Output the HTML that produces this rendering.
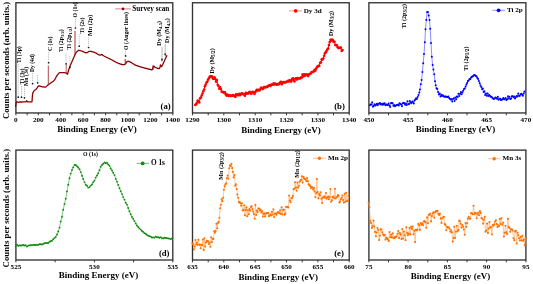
<!DOCTYPE html>
<html><head><meta charset="utf-8"><style>
html,body{margin:0;padding:0;background:#fff;}
svg{display:block;will-change:transform;}
text{font-family:"Liberation Serif",serif;}
</style></head><body>
<svg width="533" height="284" viewBox="0 0 533 284">
<rect width="533" height="284" fill="#fff"/>
<rect x="15.9" y="2.75" width="156.9" height="110.2" fill="none" stroke="#333" stroke-width="1.35"/><rect x="192.5" y="2.75" width="156.7" height="110.2" fill="none" stroke="#333" stroke-width="1.35"/><rect x="368.9" y="2.75" width="157.0" height="110.2" fill="none" stroke="#333" stroke-width="1.35"/><rect x="15.9" y="150.1" width="156.9" height="109.9" fill="none" stroke="#333" stroke-width="1.35"/><rect x="192.5" y="150.1" width="156.7" height="109.9" fill="none" stroke="#333" stroke-width="1.35"/><rect x="368.9" y="150.1" width="157.0" height="109.9" fill="none" stroke="#333" stroke-width="1.35"/><line x1="15.9" y1="113.0" x2="15.9" y2="115.3" stroke="#333" stroke-width="1"/><line x1="38.3" y1="113.0" x2="38.3" y2="115.3" stroke="#333" stroke-width="1"/><line x1="60.7" y1="113.0" x2="60.7" y2="115.3" stroke="#333" stroke-width="1"/><line x1="83.1" y1="113.0" x2="83.1" y2="115.3" stroke="#333" stroke-width="1"/><line x1="105.6" y1="113.0" x2="105.6" y2="115.3" stroke="#333" stroke-width="1"/><line x1="128.0" y1="113.0" x2="128.0" y2="115.3" stroke="#333" stroke-width="1"/><line x1="150.4" y1="113.0" x2="150.4" y2="115.3" stroke="#333" stroke-width="1"/><line x1="172.8" y1="113.0" x2="172.8" y2="115.3" stroke="#333" stroke-width="1"/><line x1="27.1" y1="113.0" x2="27.1" y2="115.3" stroke="#333" stroke-width="1"/><line x1="49.5" y1="113.0" x2="49.5" y2="115.3" stroke="#333" stroke-width="1"/><line x1="71.9" y1="113.0" x2="71.9" y2="115.3" stroke="#333" stroke-width="1"/><line x1="94.4" y1="113.0" x2="94.4" y2="115.3" stroke="#333" stroke-width="1"/><line x1="116.8" y1="113.0" x2="116.8" y2="115.3" stroke="#333" stroke-width="1"/><line x1="139.2" y1="113.0" x2="139.2" y2="115.3" stroke="#333" stroke-width="1"/><line x1="161.6" y1="113.0" x2="161.6" y2="115.3" stroke="#333" stroke-width="1"/><text transform="translate(15.90,121.90) scale(1,0.86)" text-anchor="middle" font-size="7.2" font-family="Liberation Serif" font-weight="bold">0</text><text transform="translate(38.31,121.90) scale(1,0.86)" text-anchor="middle" font-size="7.2" font-family="Liberation Serif" font-weight="bold">200</text><text transform="translate(60.73,121.90) scale(1,0.86)" text-anchor="middle" font-size="7.2" font-family="Liberation Serif" font-weight="bold">400</text><text transform="translate(83.14,121.90) scale(1,0.86)" text-anchor="middle" font-size="7.2" font-family="Liberation Serif" font-weight="bold">600</text><text transform="translate(105.56,121.90) scale(1,0.86)" text-anchor="middle" font-size="7.2" font-family="Liberation Serif" font-weight="bold">800</text><text transform="translate(127.97,121.90) scale(1,0.86)" text-anchor="middle" font-size="7.2" font-family="Liberation Serif" font-weight="bold">1000</text><text transform="translate(150.39,121.90) scale(1,0.86)" text-anchor="middle" font-size="7.2" font-family="Liberation Serif" font-weight="bold">1200</text><text transform="translate(172.80,121.90) scale(1,0.86)" text-anchor="middle" font-size="7.2" font-family="Liberation Serif" font-weight="bold">1400</text><line x1="192.5" y1="113.0" x2="192.5" y2="115.3" stroke="#333" stroke-width="1"/><line x1="223.8" y1="113.0" x2="223.8" y2="115.3" stroke="#333" stroke-width="1"/><line x1="255.2" y1="113.0" x2="255.2" y2="115.3" stroke="#333" stroke-width="1"/><line x1="286.5" y1="113.0" x2="286.5" y2="115.3" stroke="#333" stroke-width="1"/><line x1="317.9" y1="113.0" x2="317.9" y2="115.3" stroke="#333" stroke-width="1"/><line x1="349.2" y1="113.0" x2="349.2" y2="115.3" stroke="#333" stroke-width="1"/><line x1="208.2" y1="113.0" x2="208.2" y2="115.3" stroke="#333" stroke-width="1"/><line x1="239.5" y1="113.0" x2="239.5" y2="115.3" stroke="#333" stroke-width="1"/><line x1="270.9" y1="113.0" x2="270.9" y2="115.3" stroke="#333" stroke-width="1"/><line x1="302.2" y1="113.0" x2="302.2" y2="115.3" stroke="#333" stroke-width="1"/><line x1="333.5" y1="113.0" x2="333.5" y2="115.3" stroke="#333" stroke-width="1"/><text transform="translate(192.50,121.90) scale(1,0.86)" text-anchor="middle" font-size="7.2" font-family="Liberation Serif" font-weight="bold">1290</text><text transform="translate(223.84,121.90) scale(1,0.86)" text-anchor="middle" font-size="7.2" font-family="Liberation Serif" font-weight="bold">1300</text><text transform="translate(255.18,121.90) scale(1,0.86)" text-anchor="middle" font-size="7.2" font-family="Liberation Serif" font-weight="bold">1310</text><text transform="translate(286.52,121.90) scale(1,0.86)" text-anchor="middle" font-size="7.2" font-family="Liberation Serif" font-weight="bold">1320</text><text transform="translate(317.86,121.90) scale(1,0.86)" text-anchor="middle" font-size="7.2" font-family="Liberation Serif" font-weight="bold">1330</text><text transform="translate(349.20,121.90) scale(1,0.86)" text-anchor="middle" font-size="7.2" font-family="Liberation Serif" font-weight="bold">1340</text><line x1="368.9" y1="113.0" x2="368.9" y2="115.3" stroke="#333" stroke-width="1"/><line x1="408.1" y1="113.0" x2="408.1" y2="115.3" stroke="#333" stroke-width="1"/><line x1="447.4" y1="113.0" x2="447.4" y2="115.3" stroke="#333" stroke-width="1"/><line x1="486.6" y1="113.0" x2="486.6" y2="115.3" stroke="#333" stroke-width="1"/><line x1="525.9" y1="113.0" x2="525.9" y2="115.3" stroke="#333" stroke-width="1"/><line x1="388.5" y1="113.0" x2="388.5" y2="115.3" stroke="#333" stroke-width="1"/><line x1="427.8" y1="113.0" x2="427.8" y2="115.3" stroke="#333" stroke-width="1"/><line x1="467.0" y1="113.0" x2="467.0" y2="115.3" stroke="#333" stroke-width="1"/><line x1="506.3" y1="113.0" x2="506.3" y2="115.3" stroke="#333" stroke-width="1"/><text transform="translate(368.90,121.90) scale(1,0.86)" text-anchor="middle" font-size="7.2" font-family="Liberation Serif" font-weight="bold">450</text><text transform="translate(408.15,121.90) scale(1,0.86)" text-anchor="middle" font-size="7.2" font-family="Liberation Serif" font-weight="bold">455</text><text transform="translate(447.40,121.90) scale(1,0.86)" text-anchor="middle" font-size="7.2" font-family="Liberation Serif" font-weight="bold">460</text><text transform="translate(486.65,121.90) scale(1,0.86)" text-anchor="middle" font-size="7.2" font-family="Liberation Serif" font-weight="bold">465</text><text transform="translate(525.90,121.90) scale(1,0.86)" text-anchor="middle" font-size="7.2" font-family="Liberation Serif" font-weight="bold">470</text><line x1="15.9" y1="260.0" x2="15.9" y2="262.3" stroke="#333" stroke-width="1"/><line x1="94.4" y1="260.0" x2="94.4" y2="262.3" stroke="#333" stroke-width="1"/><line x1="172.8" y1="260.0" x2="172.8" y2="262.3" stroke="#333" stroke-width="1"/><line x1="55.1" y1="260.0" x2="55.1" y2="262.3" stroke="#333" stroke-width="1"/><line x1="133.6" y1="260.0" x2="133.6" y2="262.3" stroke="#333" stroke-width="1"/><text transform="translate(15.90,268.60) scale(1,1.0)" text-anchor="middle" font-size="7.1" font-family="Liberation Serif" font-weight="bold">525</text><text transform="translate(94.35,268.60) scale(1,1.0)" text-anchor="middle" font-size="7.1" font-family="Liberation Serif" font-weight="bold">530</text><text transform="translate(172.80,268.60) scale(1,1.0)" text-anchor="middle" font-size="7.1" font-family="Liberation Serif" font-weight="bold">535</text><line x1="192.5" y1="260.0" x2="192.5" y2="262.3" stroke="#333" stroke-width="1"/><line x1="223.8" y1="260.0" x2="223.8" y2="262.3" stroke="#333" stroke-width="1"/><line x1="255.2" y1="260.0" x2="255.2" y2="262.3" stroke="#333" stroke-width="1"/><line x1="286.5" y1="260.0" x2="286.5" y2="262.3" stroke="#333" stroke-width="1"/><line x1="317.9" y1="260.0" x2="317.9" y2="262.3" stroke="#333" stroke-width="1"/><line x1="349.2" y1="260.0" x2="349.2" y2="262.3" stroke="#333" stroke-width="1"/><line x1="208.2" y1="260.0" x2="208.2" y2="262.3" stroke="#333" stroke-width="1"/><line x1="239.5" y1="260.0" x2="239.5" y2="262.3" stroke="#333" stroke-width="1"/><line x1="270.9" y1="260.0" x2="270.9" y2="262.3" stroke="#333" stroke-width="1"/><line x1="302.2" y1="260.0" x2="302.2" y2="262.3" stroke="#333" stroke-width="1"/><line x1="333.5" y1="260.0" x2="333.5" y2="262.3" stroke="#333" stroke-width="1"/><text transform="translate(192.50,268.60) scale(1,1.0)" text-anchor="middle" font-size="7.1" font-family="Liberation Serif" font-weight="bold">635</text><text transform="translate(223.84,268.60) scale(1,1.0)" text-anchor="middle" font-size="7.1" font-family="Liberation Serif" font-weight="bold">640</text><text transform="translate(255.18,268.60) scale(1,1.0)" text-anchor="middle" font-size="7.1" font-family="Liberation Serif" font-weight="bold">645</text><text transform="translate(286.52,268.60) scale(1,1.0)" text-anchor="middle" font-size="7.1" font-family="Liberation Serif" font-weight="bold">650</text><text transform="translate(317.86,268.60) scale(1,1.0)" text-anchor="middle" font-size="7.1" font-family="Liberation Serif" font-weight="bold">655</text><text transform="translate(349.20,268.60) scale(1,1.0)" text-anchor="middle" font-size="7.1" font-family="Liberation Serif" font-weight="bold">660</text><line x1="368.9" y1="260.0" x2="368.9" y2="262.3" stroke="#333" stroke-width="1"/><line x1="408.1" y1="260.0" x2="408.1" y2="262.3" stroke="#333" stroke-width="1"/><line x1="447.4" y1="260.0" x2="447.4" y2="262.3" stroke="#333" stroke-width="1"/><line x1="486.6" y1="260.0" x2="486.6" y2="262.3" stroke="#333" stroke-width="1"/><line x1="525.9" y1="260.0" x2="525.9" y2="262.3" stroke="#333" stroke-width="1"/><line x1="388.5" y1="260.0" x2="388.5" y2="262.3" stroke="#333" stroke-width="1"/><line x1="427.8" y1="260.0" x2="427.8" y2="262.3" stroke="#333" stroke-width="1"/><line x1="467.0" y1="260.0" x2="467.0" y2="262.3" stroke="#333" stroke-width="1"/><line x1="506.3" y1="260.0" x2="506.3" y2="262.3" stroke="#333" stroke-width="1"/><text transform="translate(368.90,268.60) scale(1,1.0)" text-anchor="middle" font-size="7.1" font-family="Liberation Serif" font-weight="bold">75</text><text transform="translate(408.15,268.60) scale(1,1.0)" text-anchor="middle" font-size="7.1" font-family="Liberation Serif" font-weight="bold">80</text><text transform="translate(447.40,268.60) scale(1,1.0)" text-anchor="middle" font-size="7.1" font-family="Liberation Serif" font-weight="bold">85</text><text transform="translate(486.65,268.60) scale(1,1.0)" text-anchor="middle" font-size="7.1" font-family="Liberation Serif" font-weight="bold">90</text><text transform="translate(525.90,268.60) scale(1,1.0)" text-anchor="middle" font-size="7.1" font-family="Liberation Serif" font-weight="bold">95</text><text x="97.1" y="131.6" text-anchor="middle" font-size="9" font-family="Liberation Serif" font-weight="bold">Binding Energy (eV)</text><text x="281.0" y="132.6" text-anchor="middle" font-size="9" font-family="Liberation Serif" font-weight="bold">Binding Energy (eV)</text><text x="455.5" y="131.9" text-anchor="middle" font-size="9" font-family="Liberation Serif" font-weight="bold">Binding Energy (eV)</text><text x="98.5" y="278.3" text-anchor="middle" font-size="9" font-family="Liberation Serif" font-weight="bold">Binding Energy (eV)</text><text x="278.3" y="279.6" text-anchor="middle" font-size="9" font-family="Liberation Serif" font-weight="bold">Binding Energy (eV)</text><text x="450.6" y="279.0" text-anchor="middle" font-size="9" font-family="Liberation Serif" font-weight="bold">Binding Energy (eV)</text><text transform="translate(8.9,119.0) rotate(-90)" font-size="8.67" font-family="Liberation Serif" font-weight="bold">Counts per seconds (arb. units.)</text><text transform="translate(8.9,267.4) rotate(-90)" font-size="8.75" font-family="Liberation Serif" font-weight="bold">Counts per seconds (arb. units.)</text><text x="160.5" y="109.1" font-size="8.7" font-family="Liberation Serif" font-weight="bold">(a)</text><text x="334.2" y="109.1" font-size="8.7" font-family="Liberation Serif" font-weight="bold">(b)</text><text x="158.9" y="256.2" font-size="8.7" font-family="Liberation Serif" font-weight="bold">(d)</text><text x="334.2" y="256.2" font-size="8.7" font-family="Liberation Serif" font-weight="bold">(e)</text><line x1="115.2" y1="8.9" x2="130.9" y2="8.9" stroke="#d08080" stroke-width="1"/><circle cx="123.0" cy="8.9" r="1.3" fill="#8b0000"/><text x="132.3" y="11.2" font-size="7.2" font-family="Liberation Serif" font-weight="bold">Survey scan</text><line x1="289.1" y1="10.9" x2="302.0" y2="10.9" stroke="#ff9090" stroke-width="1"/><circle cx="295.7" cy="10.9" r="1.8" fill="#ff0000"/><text x="303.7" y="12.6" font-size="7.1" font-family="Liberation Serif" font-weight="bold">Dy 3d</text><line x1="492.4" y1="10.3" x2="505.0" y2="10.3" stroke="#9090ff" stroke-width="1"/><circle cx="498.6" cy="10.3" r="1.9" fill="#0000ff"/><text x="506.9" y="12.3" font-size="7.1" font-family="Liberation Serif" font-weight="bold">Ti 2p</text><line x1="136.6" y1="163.4" x2="149.0" y2="163.4" stroke="#70c070" stroke-width="1"/><circle cx="142.7" cy="163.4" r="1.9" fill="#108a10"/><text x="150.9" y="165.4" font-size="7.3" font-family="Liberation Serif" font-weight="bold">O 1s</text><line x1="312.9" y1="158.2" x2="326.0" y2="158.2" stroke="#ffc090" stroke-width="1"/><circle cx="319.4" cy="158.2" r="1.7" fill="#ff7000"/><text x="328.1" y="159.9" font-size="7.1" font-family="Liberation Serif" font-weight="bold">Mn 2p</text><line x1="488.1" y1="158.7" x2="500.5" y2="158.7" stroke="#ffc090" stroke-width="1"/><circle cx="494.2" cy="158.7" r="1.7" fill="#ff7000"/><text x="502.5" y="160.3" font-size="7.1" font-family="Liberation Serif" font-weight="bold">Mn 3s</text><polyline points="15.5,106.8 16.0,103.6 16.5,101.8 17.0,101.7 17.5,102.0 18.0,102.3 18.5,102.3 19.0,102.2 19.5,102.0 20.0,102.0 20.5,102.0 21.0,102.0 21.5,102.0 22.0,102.0 22.5,101.9 23.0,101.9 23.5,101.9 24.0,101.9 24.5,101.9 25.0,101.9 25.5,101.9 26.0,101.8 26.5,100.7 27.0,101.2 27.5,101.8 28.0,101.8 28.5,101.8 29.0,101.8 29.5,101.8 30.0,101.8 30.5,101.8 31.0,101.8 31.5,101.8 32.0,101.8 32.5,94.7 33.0,92.5 33.5,91.8 34.0,90.9 34.5,90.3 35.0,90.0 35.5,89.7 36.0,89.2 36.5,88.7 37.0,88.1 37.5,87.3 38.0,86.5 38.5,86.0 39.0,85.9 39.5,86.0 40.0,86.1 40.5,86.3 41.0,86.5 41.5,86.6 42.0,86.7 42.5,86.8 43.0,86.9 43.5,86.9 44.0,87.0 44.5,87.1 45.0,87.1 45.5,87.1 46.0,86.8 46.5,86.4 47.0,85.9 47.5,85.4 48.0,85.0 48.5,84.6 49.0,84.2 49.5,83.9 50.0,83.5 50.5,83.1 51.0,82.8 51.5,82.5 52.0,82.1 52.5,81.8 53.0,81.4 53.5,81.0 54.0,80.5 54.5,79.9 55.0,79.1 55.5,78.2 56.0,77.2 56.5,76.3 57.0,75.5 57.5,74.8 58.0,74.2 58.5,73.6 59.0,73.1 59.5,72.7 60.0,72.6 60.5,72.6 61.0,72.6 61.5,72.6 62.0,72.6 62.5,72.6 63.0,72.7 63.5,72.7 64.0,72.7 64.5,72.7 65.0,72.8 65.5,72.8 66.0,73.0 66.5,73.2 67.0,73.9 67.5,74.2 68.0,72.3 68.5,70.5 69.0,69.0 69.5,67.6 70.0,66.3 70.5,65.0 71.0,63.8 71.5,62.7 72.0,61.5 72.5,60.4 73.0,59.2 73.5,58.0 74.0,56.9 74.5,55.7 75.0,54.6 75.5,53.6 76.0,52.7 76.5,52.1 77.0,51.6 77.5,51.2 78.0,50.8 78.5,50.5 79.0,50.4 79.5,50.4 80.0,50.5 80.5,50.7 81.0,50.8 81.5,51.0 82.0,51.2 82.5,51.4 83.0,51.6 83.5,51.8 84.0,52.0 84.5,52.2 85.0,52.5 85.5,52.6 86.0,52.8 86.5,52.8 87.0,52.7 87.5,52.4 88.0,52.0 88.5,51.7 89.0,51.4 89.5,51.3 90.0,51.3 90.5,51.4 91.0,51.4 91.5,51.5 92.0,51.6 92.5,51.8 93.0,51.9 93.5,52.0 94.0,52.2 94.5,52.3 95.0,52.6 95.5,52.8 96.0,53.1 96.5,53.4 97.0,53.7 97.5,54.1 98.0,54.3 98.5,54.6 99.0,54.8 99.5,55.0 100.0,55.1 100.5,55.2 101.0,54.9 101.5,54.4 102.0,54.5 102.5,55.0 103.0,55.4 103.5,55.7 104.0,56.0 104.5,56.3 105.0,56.5 105.5,56.8 106.0,57.0 106.5,57.3 107.0,57.5 107.5,57.8 108.0,58.0 108.5,58.2 109.0,58.5 109.5,58.7 110.0,59.0 110.5,59.2 111.0,59.5 111.5,59.7 112.0,60.0 112.5,60.3 113.0,60.6 113.5,60.8 114.0,61.1 114.5,61.4 115.0,61.7 115.5,62.0 116.0,62.2 116.5,62.5 117.0,62.7 117.5,63.0 118.0,63.2 118.5,63.4 119.0,63.6 119.5,63.7 120.0,63.9 120.5,64.1 121.0,64.2 121.5,64.4 122.0,64.5 122.5,64.6 123.0,64.6 123.5,64.6 124.0,64.6 124.5,64.6 125.0,64.4 125.5,63.9 126.0,63.2 126.5,62.4 127.0,61.7 127.5,61.3 128.0,61.3 128.5,61.4 129.0,61.5 129.5,61.7 130.0,61.9 130.5,62.1 131.0,62.4 131.5,62.7 132.0,63.0 132.5,63.4 133.0,63.7 133.5,64.0 134.0,64.3 134.5,64.6 135.0,64.9 135.5,65.1 136.0,65.4 136.5,65.5 137.0,65.7 137.5,65.9 138.0,66.1 138.5,66.2 139.0,66.4 139.5,66.6 140.0,66.7 140.5,66.9 141.0,67.0 141.5,67.2 142.0,67.3 142.5,67.4 143.0,67.6 143.5,67.7 144.0,67.9 144.5,68.0 145.0,68.1 145.5,68.3 146.0,68.4 146.5,68.5 147.0,68.6 147.5,68.8 148.0,68.9 148.5,69.0 149.0,69.1 149.5,69.3 150.0,69.4 150.5,69.5 151.0,69.6 151.5,69.8 152.0,69.9 152.5,69.4 153.0,67.5 153.5,66.1 154.0,66.2 154.5,66.7 155.0,67.2 155.5,67.5 156.0,67.7 156.5,67.9 157.0,68.1 157.5,68.3 158.0,68.4 158.5,68.5 159.0,68.6 159.5,68.6 160.0,67.1 160.5,65.0 161.0,66.1 161.5,66.5 162.0,65.8 162.5,65.0 163.0,63.9 163.5,62.8 164.0,61.7 164.5,60.7 165.0,59.6 165.5,58.5 166.0,57.4 166.5,56.3 167.0,55.2" fill="none" stroke="#8b0000" stroke-width="1.3" stroke-linejoin="round"/><line x1="48.3" y1="85.0" x2="48.3" y2="65.5" stroke="#a01818" stroke-width="0.8"/><line x1="75.0" y1="54.5" x2="75.0" y2="30.8" stroke="#a01818" stroke-width="0.9"/><line x1="125.2" y1="64.2" x2="125.2" y2="59.0" stroke="#a01818" stroke-width="1.0"/><line x1="153.0" y1="69.8" x2="153.0" y2="65.4" stroke="#a01818" stroke-width="1.0"/><line x1="66.2" y1="73.5" x2="66.2" y2="64.5" stroke="#a01818" stroke-width="0.7"/><polyline points="195.3,104.9 196.1,104.2 196.9,102.8 197.7,100.6 198.5,101.4 199.3,102.5 200.1,98.2 200.9,97.5 201.7,95.5 202.5,93.5 203.3,91.3 204.1,89.5 204.9,86.3 205.7,84.6 206.5,82.5 207.3,81.6 208.1,79.6 208.9,78.2 209.7,76.8 210.5,76.4 211.3,76.4 212.1,76.6 212.9,78.4 213.7,79.0 214.5,77.2 215.3,79.1 216.1,81.8 216.9,80.1 217.7,84.7 218.5,86.0 219.3,88.7 220.1,87.4 220.9,89.1 221.7,91.8 222.5,91.7 223.3,92.5 224.1,92.4 224.9,92.3 225.7,94.3 226.5,95.6 227.3,94.5 228.1,95.4 228.9,96.0 229.7,95.4 230.5,95.9 231.3,95.9 232.1,95.7 232.9,95.1 233.7,95.7 234.5,95.8 235.3,96.9 236.1,94.3 236.9,95.3 237.7,94.3 238.5,95.3 239.3,93.7 240.1,95.1 240.9,94.3 241.7,93.3 242.5,93.9 243.3,94.1 244.1,94.2 244.9,95.8 245.7,92.9 246.5,93.8 247.3,93.2 248.1,93.6 248.9,92.6 249.7,91.9 250.5,93.1 251.3,93.7 252.1,92.3 252.9,91.7 253.7,92.6 254.5,93.9 255.3,92.1 256.1,90.9 256.9,89.8 257.7,90.5 258.5,89.8 259.3,90.4 260.1,89.6 260.9,87.9 261.7,87.8 262.5,89.0 263.3,88.5 264.1,87.1 264.9,87.2 265.7,87.2 266.5,86.9 267.3,86.9 268.1,86.1 268.9,85.6 269.7,85.2 270.5,86.0 271.3,84.6 272.1,84.7 272.9,84.6 273.7,83.4 274.5,84.5 275.3,83.6 276.1,84.6 276.9,84.5 277.7,84.1 278.5,84.4 279.3,83.6 280.1,82.5 280.9,81.9 281.7,84.2 282.5,82.6 283.3,82.0 284.1,82.4 284.9,82.0 285.7,82.5 286.5,81.7 287.3,81.5 288.1,80.8 288.9,81.5 289.7,80.1 290.5,81.2 291.3,81.4 292.1,79.1 292.9,78.2 293.7,80.3 294.5,81.5 295.3,78.7 296.1,78.3 296.9,79.4 297.7,78.1 298.5,78.2 299.3,78.5 300.1,78.5 300.9,77.5 301.7,77.7 302.5,74.6 303.3,76.4 304.1,74.3 304.9,75.7 305.7,74.5 306.5,74.9 307.3,74.6 308.1,76.1 308.9,74.5 309.7,74.0 310.5,73.7 311.3,72.4 312.1,72.0 312.9,72.0 313.7,71.5 314.5,69.9 315.3,70.8 316.1,68.8 316.9,67.4 317.7,66.4 318.5,65.7 319.3,66.0 320.1,62.7 320.9,62.5 321.7,59.4 322.5,59.5 323.3,58.5 324.1,55.7 324.9,53.4 325.7,52.3 326.5,51.1 327.3,49.5 328.1,48.6 328.9,45.1 329.7,42.1 330.5,39.7 331.3,40.7 332.1,39.5 332.9,40.4 333.7,41.9 334.5,41.8 335.3,45.0 336.1,45.1 336.9,45.4 337.7,47.2 338.5,48.1 339.3,47.8 340.1,48.0 340.9,47.6 341.7,51.0 342.5,50.0" fill="none" stroke="#ff0000" stroke-width="1"/><circle cx="195.3" cy="104.9" r="1.3" fill="#ff0000"/><circle cx="196.1" cy="104.2" r="1.3" fill="#ff0000"/><circle cx="196.9" cy="102.8" r="1.3" fill="#ff0000"/><circle cx="197.7" cy="100.6" r="1.3" fill="#ff0000"/><circle cx="198.5" cy="101.4" r="1.3" fill="#ff0000"/><circle cx="199.3" cy="102.5" r="1.3" fill="#ff0000"/><circle cx="200.1" cy="98.2" r="1.3" fill="#ff0000"/><circle cx="200.9" cy="97.5" r="1.3" fill="#ff0000"/><circle cx="201.7" cy="95.5" r="1.3" fill="#ff0000"/><circle cx="202.5" cy="93.5" r="1.3" fill="#ff0000"/><circle cx="203.3" cy="91.3" r="1.3" fill="#ff0000"/><circle cx="204.1" cy="89.5" r="1.3" fill="#ff0000"/><circle cx="204.9" cy="86.3" r="1.3" fill="#ff0000"/><circle cx="205.7" cy="84.6" r="1.3" fill="#ff0000"/><circle cx="206.5" cy="82.5" r="1.3" fill="#ff0000"/><circle cx="207.3" cy="81.6" r="1.3" fill="#ff0000"/><circle cx="208.1" cy="79.6" r="1.3" fill="#ff0000"/><circle cx="208.9" cy="78.2" r="1.3" fill="#ff0000"/><circle cx="209.7" cy="76.8" r="1.3" fill="#ff0000"/><circle cx="210.5" cy="76.4" r="1.3" fill="#ff0000"/><circle cx="211.3" cy="76.4" r="1.3" fill="#ff0000"/><circle cx="212.1" cy="76.6" r="1.3" fill="#ff0000"/><circle cx="212.9" cy="78.4" r="1.3" fill="#ff0000"/><circle cx="213.7" cy="79.0" r="1.3" fill="#ff0000"/><circle cx="214.5" cy="77.2" r="1.3" fill="#ff0000"/><circle cx="215.3" cy="79.1" r="1.3" fill="#ff0000"/><circle cx="216.1" cy="81.8" r="1.3" fill="#ff0000"/><circle cx="216.9" cy="80.1" r="1.3" fill="#ff0000"/><circle cx="217.7" cy="84.7" r="1.3" fill="#ff0000"/><circle cx="218.5" cy="86.0" r="1.3" fill="#ff0000"/><circle cx="219.3" cy="88.7" r="1.3" fill="#ff0000"/><circle cx="220.1" cy="87.4" r="1.3" fill="#ff0000"/><circle cx="220.9" cy="89.1" r="1.3" fill="#ff0000"/><circle cx="221.7" cy="91.8" r="1.3" fill="#ff0000"/><circle cx="222.5" cy="91.7" r="1.3" fill="#ff0000"/><circle cx="223.3" cy="92.5" r="1.3" fill="#ff0000"/><circle cx="224.1" cy="92.4" r="1.3" fill="#ff0000"/><circle cx="224.9" cy="92.3" r="1.3" fill="#ff0000"/><circle cx="225.7" cy="94.3" r="1.3" fill="#ff0000"/><circle cx="226.5" cy="95.6" r="1.3" fill="#ff0000"/><circle cx="227.3" cy="94.5" r="1.3" fill="#ff0000"/><circle cx="228.1" cy="95.4" r="1.3" fill="#ff0000"/><circle cx="228.9" cy="96.0" r="1.3" fill="#ff0000"/><circle cx="229.7" cy="95.4" r="1.3" fill="#ff0000"/><circle cx="230.5" cy="95.9" r="1.3" fill="#ff0000"/><circle cx="231.3" cy="95.9" r="1.3" fill="#ff0000"/><circle cx="232.1" cy="95.7" r="1.3" fill="#ff0000"/><circle cx="232.9" cy="95.1" r="1.3" fill="#ff0000"/><circle cx="233.7" cy="95.7" r="1.3" fill="#ff0000"/><circle cx="234.5" cy="95.8" r="1.3" fill="#ff0000"/><circle cx="235.3" cy="96.9" r="1.3" fill="#ff0000"/><circle cx="236.1" cy="94.3" r="1.3" fill="#ff0000"/><circle cx="236.9" cy="95.3" r="1.3" fill="#ff0000"/><circle cx="237.7" cy="94.3" r="1.3" fill="#ff0000"/><circle cx="238.5" cy="95.3" r="1.3" fill="#ff0000"/><circle cx="239.3" cy="93.7" r="1.3" fill="#ff0000"/><circle cx="240.1" cy="95.1" r="1.3" fill="#ff0000"/><circle cx="240.9" cy="94.3" r="1.3" fill="#ff0000"/><circle cx="241.7" cy="93.3" r="1.3" fill="#ff0000"/><circle cx="242.5" cy="93.9" r="1.3" fill="#ff0000"/><circle cx="243.3" cy="94.1" r="1.3" fill="#ff0000"/><circle cx="244.1" cy="94.2" r="1.3" fill="#ff0000"/><circle cx="244.9" cy="95.8" r="1.3" fill="#ff0000"/><circle cx="245.7" cy="92.9" r="1.3" fill="#ff0000"/><circle cx="246.5" cy="93.8" r="1.3" fill="#ff0000"/><circle cx="247.3" cy="93.2" r="1.3" fill="#ff0000"/><circle cx="248.1" cy="93.6" r="1.3" fill="#ff0000"/><circle cx="248.9" cy="92.6" r="1.3" fill="#ff0000"/><circle cx="249.7" cy="91.9" r="1.3" fill="#ff0000"/><circle cx="250.5" cy="93.1" r="1.3" fill="#ff0000"/><circle cx="251.3" cy="93.7" r="1.3" fill="#ff0000"/><circle cx="252.1" cy="92.3" r="1.3" fill="#ff0000"/><circle cx="252.9" cy="91.7" r="1.3" fill="#ff0000"/><circle cx="253.7" cy="92.6" r="1.3" fill="#ff0000"/><circle cx="254.5" cy="93.9" r="1.3" fill="#ff0000"/><circle cx="255.3" cy="92.1" r="1.3" fill="#ff0000"/><circle cx="256.1" cy="90.9" r="1.3" fill="#ff0000"/><circle cx="256.9" cy="89.8" r="1.3" fill="#ff0000"/><circle cx="257.7" cy="90.5" r="1.3" fill="#ff0000"/><circle cx="258.5" cy="89.8" r="1.3" fill="#ff0000"/><circle cx="259.3" cy="90.4" r="1.3" fill="#ff0000"/><circle cx="260.1" cy="89.6" r="1.3" fill="#ff0000"/><circle cx="260.9" cy="87.9" r="1.3" fill="#ff0000"/><circle cx="261.7" cy="87.8" r="1.3" fill="#ff0000"/><circle cx="262.5" cy="89.0" r="1.3" fill="#ff0000"/><circle cx="263.3" cy="88.5" r="1.3" fill="#ff0000"/><circle cx="264.1" cy="87.1" r="1.3" fill="#ff0000"/><circle cx="264.9" cy="87.2" r="1.3" fill="#ff0000"/><circle cx="265.7" cy="87.2" r="1.3" fill="#ff0000"/><circle cx="266.5" cy="86.9" r="1.3" fill="#ff0000"/><circle cx="267.3" cy="86.9" r="1.3" fill="#ff0000"/><circle cx="268.1" cy="86.1" r="1.3" fill="#ff0000"/><circle cx="268.9" cy="85.6" r="1.3" fill="#ff0000"/><circle cx="269.7" cy="85.2" r="1.3" fill="#ff0000"/><circle cx="270.5" cy="86.0" r="1.3" fill="#ff0000"/><circle cx="271.3" cy="84.6" r="1.3" fill="#ff0000"/><circle cx="272.1" cy="84.7" r="1.3" fill="#ff0000"/><circle cx="272.9" cy="84.6" r="1.3" fill="#ff0000"/><circle cx="273.7" cy="83.4" r="1.3" fill="#ff0000"/><circle cx="274.5" cy="84.5" r="1.3" fill="#ff0000"/><circle cx="275.3" cy="83.6" r="1.3" fill="#ff0000"/><circle cx="276.1" cy="84.6" r="1.3" fill="#ff0000"/><circle cx="276.9" cy="84.5" r="1.3" fill="#ff0000"/><circle cx="277.7" cy="84.1" r="1.3" fill="#ff0000"/><circle cx="278.5" cy="84.4" r="1.3" fill="#ff0000"/><circle cx="279.3" cy="83.6" r="1.3" fill="#ff0000"/><circle cx="280.1" cy="82.5" r="1.3" fill="#ff0000"/><circle cx="280.9" cy="81.9" r="1.3" fill="#ff0000"/><circle cx="281.7" cy="84.2" r="1.3" fill="#ff0000"/><circle cx="282.5" cy="82.6" r="1.3" fill="#ff0000"/><circle cx="283.3" cy="82.0" r="1.3" fill="#ff0000"/><circle cx="284.1" cy="82.4" r="1.3" fill="#ff0000"/><circle cx="284.9" cy="82.0" r="1.3" fill="#ff0000"/><circle cx="285.7" cy="82.5" r="1.3" fill="#ff0000"/><circle cx="286.5" cy="81.7" r="1.3" fill="#ff0000"/><circle cx="287.3" cy="81.5" r="1.3" fill="#ff0000"/><circle cx="288.1" cy="80.8" r="1.3" fill="#ff0000"/><circle cx="288.9" cy="81.5" r="1.3" fill="#ff0000"/><circle cx="289.7" cy="80.1" r="1.3" fill="#ff0000"/><circle cx="290.5" cy="81.2" r="1.3" fill="#ff0000"/><circle cx="291.3" cy="81.4" r="1.3" fill="#ff0000"/><circle cx="292.1" cy="79.1" r="1.3" fill="#ff0000"/><circle cx="292.9" cy="78.2" r="1.3" fill="#ff0000"/><circle cx="293.7" cy="80.3" r="1.3" fill="#ff0000"/><circle cx="294.5" cy="81.5" r="1.3" fill="#ff0000"/><circle cx="295.3" cy="78.7" r="1.3" fill="#ff0000"/><circle cx="296.1" cy="78.3" r="1.3" fill="#ff0000"/><circle cx="296.9" cy="79.4" r="1.3" fill="#ff0000"/><circle cx="297.7" cy="78.1" r="1.3" fill="#ff0000"/><circle cx="298.5" cy="78.2" r="1.3" fill="#ff0000"/><circle cx="299.3" cy="78.5" r="1.3" fill="#ff0000"/><circle cx="300.1" cy="78.5" r="1.3" fill="#ff0000"/><circle cx="300.9" cy="77.5" r="1.3" fill="#ff0000"/><circle cx="301.7" cy="77.7" r="1.3" fill="#ff0000"/><circle cx="302.5" cy="74.6" r="1.3" fill="#ff0000"/><circle cx="303.3" cy="76.4" r="1.3" fill="#ff0000"/><circle cx="304.1" cy="74.3" r="1.3" fill="#ff0000"/><circle cx="304.9" cy="75.7" r="1.3" fill="#ff0000"/><circle cx="305.7" cy="74.5" r="1.3" fill="#ff0000"/><circle cx="306.5" cy="74.9" r="1.3" fill="#ff0000"/><circle cx="307.3" cy="74.6" r="1.3" fill="#ff0000"/><circle cx="308.1" cy="76.1" r="1.3" fill="#ff0000"/><circle cx="308.9" cy="74.5" r="1.3" fill="#ff0000"/><circle cx="309.7" cy="74.0" r="1.3" fill="#ff0000"/><circle cx="310.5" cy="73.7" r="1.3" fill="#ff0000"/><circle cx="311.3" cy="72.4" r="1.3" fill="#ff0000"/><circle cx="312.1" cy="72.0" r="1.3" fill="#ff0000"/><circle cx="312.9" cy="72.0" r="1.3" fill="#ff0000"/><circle cx="313.7" cy="71.5" r="1.3" fill="#ff0000"/><circle cx="314.5" cy="69.9" r="1.3" fill="#ff0000"/><circle cx="315.3" cy="70.8" r="1.3" fill="#ff0000"/><circle cx="316.1" cy="68.8" r="1.3" fill="#ff0000"/><circle cx="316.9" cy="67.4" r="1.3" fill="#ff0000"/><circle cx="317.7" cy="66.4" r="1.3" fill="#ff0000"/><circle cx="318.5" cy="65.7" r="1.3" fill="#ff0000"/><circle cx="319.3" cy="66.0" r="1.3" fill="#ff0000"/><circle cx="320.1" cy="62.7" r="1.3" fill="#ff0000"/><circle cx="320.9" cy="62.5" r="1.3" fill="#ff0000"/><circle cx="321.7" cy="59.4" r="1.3" fill="#ff0000"/><circle cx="322.5" cy="59.5" r="1.3" fill="#ff0000"/><circle cx="323.3" cy="58.5" r="1.3" fill="#ff0000"/><circle cx="324.1" cy="55.7" r="1.3" fill="#ff0000"/><circle cx="324.9" cy="53.4" r="1.3" fill="#ff0000"/><circle cx="325.7" cy="52.3" r="1.3" fill="#ff0000"/><circle cx="326.5" cy="51.1" r="1.3" fill="#ff0000"/><circle cx="327.3" cy="49.5" r="1.3" fill="#ff0000"/><circle cx="328.1" cy="48.6" r="1.3" fill="#ff0000"/><circle cx="328.9" cy="45.1" r="1.3" fill="#ff0000"/><circle cx="329.7" cy="42.1" r="1.3" fill="#ff0000"/><circle cx="330.5" cy="39.7" r="1.3" fill="#ff0000"/><circle cx="331.3" cy="40.7" r="1.3" fill="#ff0000"/><circle cx="332.1" cy="39.5" r="1.3" fill="#ff0000"/><circle cx="332.9" cy="40.4" r="1.3" fill="#ff0000"/><circle cx="333.7" cy="41.9" r="1.3" fill="#ff0000"/><circle cx="334.5" cy="41.8" r="1.3" fill="#ff0000"/><circle cx="335.3" cy="45.0" r="1.3" fill="#ff0000"/><circle cx="336.1" cy="45.1" r="1.3" fill="#ff0000"/><circle cx="336.9" cy="45.4" r="1.3" fill="#ff0000"/><circle cx="337.7" cy="47.2" r="1.3" fill="#ff0000"/><circle cx="338.5" cy="48.1" r="1.3" fill="#ff0000"/><circle cx="339.3" cy="47.8" r="1.3" fill="#ff0000"/><circle cx="340.1" cy="48.0" r="1.3" fill="#ff0000"/><circle cx="340.9" cy="47.6" r="1.3" fill="#ff0000"/><circle cx="341.7" cy="51.0" r="1.3" fill="#ff0000"/><circle cx="342.5" cy="50.0" r="1.3" fill="#ff0000"/><polyline points="369.8,105.2 370.6,104.4 371.4,104.4 372.2,102.2 372.9,106.8 373.7,106.0 374.5,104.3 375.3,105.4 376.1,104.8 376.9,103.7 377.7,105.3 378.4,103.8 379.2,103.7 380.0,103.1 380.8,104.5 381.6,103.9 382.4,104.7 383.1,103.5 383.9,104.4 384.7,103.3 385.5,105.3 386.3,104.6 387.1,104.8 387.9,104.9 388.6,103.4 389.4,105.4 390.2,106.9 391.0,102.9 391.8,102.9 392.6,103.2 393.4,105.8 394.1,105.1 394.9,106.2 395.7,105.8 396.5,105.1 397.3,105.1 398.1,104.5 398.8,105.5 399.6,103.2 400.4,103.9 401.2,104.5 402.0,106.2 402.8,103.3 403.6,102.8 404.3,103.3 405.1,104.8 405.9,103.4 406.7,104.9 407.5,101.2 408.3,104.3 409.1,103.9 409.8,101.0 410.6,102.4 411.4,103.3 412.2,101.6 413.0,102.3 413.8,103.4 414.5,100.6 415.3,99.5 416.1,98.3 416.9,99.1 417.7,97.1 418.5,95.1 419.3,92.4 420.0,89.6 420.8,84.3 421.6,80.0 422.4,72.0 423.2,63.3 424.0,54.1 424.8,42.3 425.5,29.3 426.3,20.0 427.1,11.9 427.9,12.1 428.7,15.6 429.5,20.1 430.2,28.7 431.0,43.1 431.8,56.7 432.6,65.1 433.4,69.6 434.2,74.3 435.0,81.2 435.7,85.2 436.5,88.3 437.3,89.1 438.1,91.9 438.9,94.5 439.7,93.5 440.5,96.6 441.2,94.7 442.0,96.0 442.8,95.2 443.6,96.2 444.4,96.8 445.2,96.6 445.9,96.6 446.7,97.0 447.5,97.0 448.3,96.4 449.1,98.0 449.9,98.8 450.7,99.5 451.4,99.3 452.2,101.4 453.0,99.1 453.8,98.3 454.6,100.9 455.4,97.5 456.2,99.2 456.9,96.5 457.7,97.1 458.5,93.7 459.3,95.9 460.1,93.8 460.9,92.1 461.6,94.2 462.4,92.4 463.2,90.7 464.0,88.9 464.8,88.5 465.6,86.6 466.4,84.6 467.1,82.9 467.9,81.0 468.7,80.4 469.5,78.9 470.3,78.9 471.1,77.4 471.9,76.8 472.6,76.4 473.4,75.7 474.2,74.9 475.0,75.3 475.8,76.0 476.6,76.5 477.3,77.9 478.1,78.9 478.9,80.9 479.7,83.2 480.5,85.5 481.3,86.9 482.1,89.2 482.8,88.4 483.6,92.0 484.4,91.3 485.2,95.1 486.0,93.6 486.8,95.7 487.6,93.5 488.3,96.0 489.1,95.0 489.9,95.8 490.7,96.7 491.5,96.7 492.3,97.7 493.0,98.6 493.8,98.9 494.6,98.5 495.4,97.4 496.2,98.1 497.0,98.8 497.8,96.7 498.5,99.8 499.3,98.7 500.1,98.7 500.9,100.0 501.7,99.7 502.5,99.2 503.3,97.9 504.0,99.3 504.8,99.3 505.6,97.9 506.4,99.9 507.2,99.2 508.0,96.3 508.7,98.4 509.5,96.7 510.3,99.1 511.1,98.6 511.9,96.3 512.7,96.3 513.5,97.2 514.2,96.6 515.0,98.4 515.8,97.3 516.6,95.9 517.4,96.6 518.2,93.4 519.0,95.7 519.7,96.1 520.5,94.6 521.3,93.7 522.1,94.7 522.9,95.8 523.7,93.5 524.4,91.6" fill="none" stroke="#8c8cff" stroke-width="1.0"/><circle cx="369.8" cy="105.2" r="1.0" fill="#0000ff"/><circle cx="370.6" cy="104.4" r="1.0" fill="#0000ff"/><circle cx="371.4" cy="104.4" r="1.0" fill="#0000ff"/><circle cx="372.2" cy="102.2" r="1.0" fill="#0000ff"/><circle cx="372.9" cy="106.8" r="1.0" fill="#0000ff"/><circle cx="373.7" cy="106.0" r="1.0" fill="#0000ff"/><circle cx="374.5" cy="104.3" r="1.0" fill="#0000ff"/><circle cx="375.3" cy="105.4" r="1.0" fill="#0000ff"/><circle cx="376.1" cy="104.8" r="1.0" fill="#0000ff"/><circle cx="376.9" cy="103.7" r="1.0" fill="#0000ff"/><circle cx="377.7" cy="105.3" r="1.0" fill="#0000ff"/><circle cx="378.4" cy="103.8" r="1.0" fill="#0000ff"/><circle cx="379.2" cy="103.7" r="1.0" fill="#0000ff"/><circle cx="380.0" cy="103.1" r="1.0" fill="#0000ff"/><circle cx="380.8" cy="104.5" r="1.0" fill="#0000ff"/><circle cx="381.6" cy="103.9" r="1.0" fill="#0000ff"/><circle cx="382.4" cy="104.7" r="1.0" fill="#0000ff"/><circle cx="383.1" cy="103.5" r="1.0" fill="#0000ff"/><circle cx="383.9" cy="104.4" r="1.0" fill="#0000ff"/><circle cx="384.7" cy="103.3" r="1.0" fill="#0000ff"/><circle cx="385.5" cy="105.3" r="1.0" fill="#0000ff"/><circle cx="386.3" cy="104.6" r="1.0" fill="#0000ff"/><circle cx="387.1" cy="104.8" r="1.0" fill="#0000ff"/><circle cx="387.9" cy="104.9" r="1.0" fill="#0000ff"/><circle cx="388.6" cy="103.4" r="1.0" fill="#0000ff"/><circle cx="389.4" cy="105.4" r="1.0" fill="#0000ff"/><circle cx="390.2" cy="106.9" r="1.0" fill="#0000ff"/><circle cx="391.0" cy="102.9" r="1.0" fill="#0000ff"/><circle cx="391.8" cy="102.9" r="1.0" fill="#0000ff"/><circle cx="392.6" cy="103.2" r="1.0" fill="#0000ff"/><circle cx="393.4" cy="105.8" r="1.0" fill="#0000ff"/><circle cx="394.1" cy="105.1" r="1.0" fill="#0000ff"/><circle cx="394.9" cy="106.2" r="1.0" fill="#0000ff"/><circle cx="395.7" cy="105.8" r="1.0" fill="#0000ff"/><circle cx="396.5" cy="105.1" r="1.0" fill="#0000ff"/><circle cx="397.3" cy="105.1" r="1.0" fill="#0000ff"/><circle cx="398.1" cy="104.5" r="1.0" fill="#0000ff"/><circle cx="398.8" cy="105.5" r="1.0" fill="#0000ff"/><circle cx="399.6" cy="103.2" r="1.0" fill="#0000ff"/><circle cx="400.4" cy="103.9" r="1.0" fill="#0000ff"/><circle cx="401.2" cy="104.5" r="1.0" fill="#0000ff"/><circle cx="402.0" cy="106.2" r="1.0" fill="#0000ff"/><circle cx="402.8" cy="103.3" r="1.0" fill="#0000ff"/><circle cx="403.6" cy="102.8" r="1.0" fill="#0000ff"/><circle cx="404.3" cy="103.3" r="1.0" fill="#0000ff"/><circle cx="405.1" cy="104.8" r="1.0" fill="#0000ff"/><circle cx="405.9" cy="103.4" r="1.0" fill="#0000ff"/><circle cx="406.7" cy="104.9" r="1.0" fill="#0000ff"/><circle cx="407.5" cy="101.2" r="1.0" fill="#0000ff"/><circle cx="408.3" cy="104.3" r="1.0" fill="#0000ff"/><circle cx="409.1" cy="103.9" r="1.0" fill="#0000ff"/><circle cx="409.8" cy="101.0" r="1.0" fill="#0000ff"/><circle cx="410.6" cy="102.4" r="1.0" fill="#0000ff"/><circle cx="411.4" cy="103.3" r="1.0" fill="#0000ff"/><circle cx="412.2" cy="101.6" r="1.0" fill="#0000ff"/><circle cx="413.0" cy="102.3" r="1.0" fill="#0000ff"/><circle cx="413.8" cy="103.4" r="1.0" fill="#0000ff"/><circle cx="414.5" cy="100.6" r="1.0" fill="#0000ff"/><circle cx="415.3" cy="99.5" r="1.0" fill="#0000ff"/><circle cx="416.1" cy="98.3" r="1.0" fill="#0000ff"/><circle cx="416.9" cy="99.1" r="1.0" fill="#0000ff"/><circle cx="417.7" cy="97.1" r="1.0" fill="#0000ff"/><circle cx="418.5" cy="95.1" r="1.0" fill="#0000ff"/><circle cx="419.3" cy="92.4" r="1.0" fill="#0000ff"/><circle cx="420.0" cy="89.6" r="1.0" fill="#0000ff"/><circle cx="420.8" cy="84.3" r="1.0" fill="#0000ff"/><circle cx="421.6" cy="80.0" r="1.0" fill="#0000ff"/><circle cx="422.4" cy="72.0" r="1.0" fill="#0000ff"/><circle cx="423.2" cy="63.3" r="1.0" fill="#0000ff"/><circle cx="424.0" cy="54.1" r="1.0" fill="#0000ff"/><circle cx="424.8" cy="42.3" r="1.0" fill="#0000ff"/><circle cx="425.5" cy="29.3" r="1.0" fill="#0000ff"/><circle cx="426.3" cy="20.0" r="1.0" fill="#0000ff"/><circle cx="427.1" cy="11.9" r="1.0" fill="#0000ff"/><circle cx="427.9" cy="12.1" r="1.0" fill="#0000ff"/><circle cx="428.7" cy="15.6" r="1.0" fill="#0000ff"/><circle cx="429.5" cy="20.1" r="1.0" fill="#0000ff"/><circle cx="430.2" cy="28.7" r="1.0" fill="#0000ff"/><circle cx="431.0" cy="43.1" r="1.0" fill="#0000ff"/><circle cx="431.8" cy="56.7" r="1.0" fill="#0000ff"/><circle cx="432.6" cy="65.1" r="1.0" fill="#0000ff"/><circle cx="433.4" cy="69.6" r="1.0" fill="#0000ff"/><circle cx="434.2" cy="74.3" r="1.0" fill="#0000ff"/><circle cx="435.0" cy="81.2" r="1.0" fill="#0000ff"/><circle cx="435.7" cy="85.2" r="1.0" fill="#0000ff"/><circle cx="436.5" cy="88.3" r="1.0" fill="#0000ff"/><circle cx="437.3" cy="89.1" r="1.0" fill="#0000ff"/><circle cx="438.1" cy="91.9" r="1.0" fill="#0000ff"/><circle cx="438.9" cy="94.5" r="1.0" fill="#0000ff"/><circle cx="439.7" cy="93.5" r="1.0" fill="#0000ff"/><circle cx="440.5" cy="96.6" r="1.0" fill="#0000ff"/><circle cx="441.2" cy="94.7" r="1.0" fill="#0000ff"/><circle cx="442.0" cy="96.0" r="1.0" fill="#0000ff"/><circle cx="442.8" cy="95.2" r="1.0" fill="#0000ff"/><circle cx="443.6" cy="96.2" r="1.0" fill="#0000ff"/><circle cx="444.4" cy="96.8" r="1.0" fill="#0000ff"/><circle cx="445.2" cy="96.6" r="1.0" fill="#0000ff"/><circle cx="445.9" cy="96.6" r="1.0" fill="#0000ff"/><circle cx="446.7" cy="97.0" r="1.0" fill="#0000ff"/><circle cx="447.5" cy="97.0" r="1.0" fill="#0000ff"/><circle cx="448.3" cy="96.4" r="1.0" fill="#0000ff"/><circle cx="449.1" cy="98.0" r="1.0" fill="#0000ff"/><circle cx="449.9" cy="98.8" r="1.0" fill="#0000ff"/><circle cx="450.7" cy="99.5" r="1.0" fill="#0000ff"/><circle cx="451.4" cy="99.3" r="1.0" fill="#0000ff"/><circle cx="452.2" cy="101.4" r="1.0" fill="#0000ff"/><circle cx="453.0" cy="99.1" r="1.0" fill="#0000ff"/><circle cx="453.8" cy="98.3" r="1.0" fill="#0000ff"/><circle cx="454.6" cy="100.9" r="1.0" fill="#0000ff"/><circle cx="455.4" cy="97.5" r="1.0" fill="#0000ff"/><circle cx="456.2" cy="99.2" r="1.0" fill="#0000ff"/><circle cx="456.9" cy="96.5" r="1.0" fill="#0000ff"/><circle cx="457.7" cy="97.1" r="1.0" fill="#0000ff"/><circle cx="458.5" cy="93.7" r="1.0" fill="#0000ff"/><circle cx="459.3" cy="95.9" r="1.0" fill="#0000ff"/><circle cx="460.1" cy="93.8" r="1.0" fill="#0000ff"/><circle cx="460.9" cy="92.1" r="1.0" fill="#0000ff"/><circle cx="461.6" cy="94.2" r="1.0" fill="#0000ff"/><circle cx="462.4" cy="92.4" r="1.0" fill="#0000ff"/><circle cx="463.2" cy="90.7" r="1.0" fill="#0000ff"/><circle cx="464.0" cy="88.9" r="1.0" fill="#0000ff"/><circle cx="464.8" cy="88.5" r="1.0" fill="#0000ff"/><circle cx="465.6" cy="86.6" r="1.0" fill="#0000ff"/><circle cx="466.4" cy="84.6" r="1.0" fill="#0000ff"/><circle cx="467.1" cy="82.9" r="1.0" fill="#0000ff"/><circle cx="467.9" cy="81.0" r="1.0" fill="#0000ff"/><circle cx="468.7" cy="80.4" r="1.0" fill="#0000ff"/><circle cx="469.5" cy="78.9" r="1.0" fill="#0000ff"/><circle cx="470.3" cy="78.9" r="1.0" fill="#0000ff"/><circle cx="471.1" cy="77.4" r="1.0" fill="#0000ff"/><circle cx="471.9" cy="76.8" r="1.0" fill="#0000ff"/><circle cx="472.6" cy="76.4" r="1.0" fill="#0000ff"/><circle cx="473.4" cy="75.7" r="1.0" fill="#0000ff"/><circle cx="474.2" cy="74.9" r="1.0" fill="#0000ff"/><circle cx="475.0" cy="75.3" r="1.0" fill="#0000ff"/><circle cx="475.8" cy="76.0" r="1.0" fill="#0000ff"/><circle cx="476.6" cy="76.5" r="1.0" fill="#0000ff"/><circle cx="477.3" cy="77.9" r="1.0" fill="#0000ff"/><circle cx="478.1" cy="78.9" r="1.0" fill="#0000ff"/><circle cx="478.9" cy="80.9" r="1.0" fill="#0000ff"/><circle cx="479.7" cy="83.2" r="1.0" fill="#0000ff"/><circle cx="480.5" cy="85.5" r="1.0" fill="#0000ff"/><circle cx="481.3" cy="86.9" r="1.0" fill="#0000ff"/><circle cx="482.1" cy="89.2" r="1.0" fill="#0000ff"/><circle cx="482.8" cy="88.4" r="1.0" fill="#0000ff"/><circle cx="483.6" cy="92.0" r="1.0" fill="#0000ff"/><circle cx="484.4" cy="91.3" r="1.0" fill="#0000ff"/><circle cx="485.2" cy="95.1" r="1.0" fill="#0000ff"/><circle cx="486.0" cy="93.6" r="1.0" fill="#0000ff"/><circle cx="486.8" cy="95.7" r="1.0" fill="#0000ff"/><circle cx="487.6" cy="93.5" r="1.0" fill="#0000ff"/><circle cx="488.3" cy="96.0" r="1.0" fill="#0000ff"/><circle cx="489.1" cy="95.0" r="1.0" fill="#0000ff"/><circle cx="489.9" cy="95.8" r="1.0" fill="#0000ff"/><circle cx="490.7" cy="96.7" r="1.0" fill="#0000ff"/><circle cx="491.5" cy="96.7" r="1.0" fill="#0000ff"/><circle cx="492.3" cy="97.7" r="1.0" fill="#0000ff"/><circle cx="493.0" cy="98.6" r="1.0" fill="#0000ff"/><circle cx="493.8" cy="98.9" r="1.0" fill="#0000ff"/><circle cx="494.6" cy="98.5" r="1.0" fill="#0000ff"/><circle cx="495.4" cy="97.4" r="1.0" fill="#0000ff"/><circle cx="496.2" cy="98.1" r="1.0" fill="#0000ff"/><circle cx="497.0" cy="98.8" r="1.0" fill="#0000ff"/><circle cx="497.8" cy="96.7" r="1.0" fill="#0000ff"/><circle cx="498.5" cy="99.8" r="1.0" fill="#0000ff"/><circle cx="499.3" cy="98.7" r="1.0" fill="#0000ff"/><circle cx="500.1" cy="98.7" r="1.0" fill="#0000ff"/><circle cx="500.9" cy="100.0" r="1.0" fill="#0000ff"/><circle cx="501.7" cy="99.7" r="1.0" fill="#0000ff"/><circle cx="502.5" cy="99.2" r="1.0" fill="#0000ff"/><circle cx="503.3" cy="97.9" r="1.0" fill="#0000ff"/><circle cx="504.0" cy="99.3" r="1.0" fill="#0000ff"/><circle cx="504.8" cy="99.3" r="1.0" fill="#0000ff"/><circle cx="505.6" cy="97.9" r="1.0" fill="#0000ff"/><circle cx="506.4" cy="99.9" r="1.0" fill="#0000ff"/><circle cx="507.2" cy="99.2" r="1.0" fill="#0000ff"/><circle cx="508.0" cy="96.3" r="1.0" fill="#0000ff"/><circle cx="508.7" cy="98.4" r="1.0" fill="#0000ff"/><circle cx="509.5" cy="96.7" r="1.0" fill="#0000ff"/><circle cx="510.3" cy="99.1" r="1.0" fill="#0000ff"/><circle cx="511.1" cy="98.6" r="1.0" fill="#0000ff"/><circle cx="511.9" cy="96.3" r="1.0" fill="#0000ff"/><circle cx="512.7" cy="96.3" r="1.0" fill="#0000ff"/><circle cx="513.5" cy="97.2" r="1.0" fill="#0000ff"/><circle cx="514.2" cy="96.6" r="1.0" fill="#0000ff"/><circle cx="515.0" cy="98.4" r="1.0" fill="#0000ff"/><circle cx="515.8" cy="97.3" r="1.0" fill="#0000ff"/><circle cx="516.6" cy="95.9" r="1.0" fill="#0000ff"/><circle cx="517.4" cy="96.6" r="1.0" fill="#0000ff"/><circle cx="518.2" cy="93.4" r="1.0" fill="#0000ff"/><circle cx="519.0" cy="95.7" r="1.0" fill="#0000ff"/><circle cx="519.7" cy="96.1" r="1.0" fill="#0000ff"/><circle cx="520.5" cy="94.6" r="1.0" fill="#0000ff"/><circle cx="521.3" cy="93.7" r="1.0" fill="#0000ff"/><circle cx="522.1" cy="94.7" r="1.0" fill="#0000ff"/><circle cx="522.9" cy="95.8" r="1.0" fill="#0000ff"/><circle cx="523.7" cy="93.5" r="1.0" fill="#0000ff"/><circle cx="524.4" cy="91.6" r="1.0" fill="#0000ff"/><polyline points="15.7,246.2 16.9,244.8 18.2,245.7 19.4,245.4 20.7,245.5 21.9,245.5 23.2,245.0 24.4,245.5 25.7,245.3 26.9,246.6 28.2,245.6 29.4,245.4 30.7,245.3 31.9,245.1 33.2,244.9 34.5,244.9 35.7,245.0 37.0,244.7 38.2,244.9 39.5,244.3 40.7,244.2 42.0,244.5 43.2,243.9 44.5,243.3 45.7,243.1 47.0,243.0 48.2,243.0 49.5,241.8 50.7,241.2 52.0,240.8 53.2,239.2 54.5,238.1 55.7,236.9 57.0,234.5 58.2,231.5 59.5,227.6 60.7,221.4 62.0,216.8 63.2,209.8 64.5,203.9 65.7,198.8 67.0,191.4 68.2,184.8 69.5,178.2 70.7,173.6 72.0,169.9 73.2,167.4 74.5,164.9 75.7,164.9 77.0,166.3 78.2,167.5 79.5,169.2 80.7,172.1 82.0,175.8 83.2,179.0 84.5,182.1 85.7,184.7 87.0,185.8 88.2,187.6 89.5,187.1 90.7,185.6 92.0,184.5 93.2,182.2 94.5,180.6 95.7,177.6 97.0,175.5 98.2,173.2 99.5,170.3 100.7,166.8 102.0,165.0 103.2,163.7 104.5,162.5 105.7,163.2 107.0,162.8 108.2,164.5 109.5,165.8 110.7,168.5 112.0,170.4 113.2,172.8 114.5,175.1 115.7,178.9 117.0,181.6 118.2,184.9 119.5,188.2 120.7,191.2 122.0,194.1 123.2,197.1 124.5,199.6 125.7,202.7 127.0,204.6 128.2,208.0 129.4,211.2 130.7,214.3 131.9,216.9 133.2,218.8 134.4,220.9 135.7,223.4 136.9,225.5 138.2,227.0 139.4,228.4 140.7,229.6 141.9,231.0 143.2,231.9 144.4,233.3 145.7,233.7 146.9,234.9 148.2,235.6 149.4,236.3 150.7,236.6 151.9,237.5 153.2,237.4 154.4,237.6 155.7,236.6 156.9,237.3 158.2,237.3 159.4,237.8 160.7,237.1 161.9,238.3 163.2,238.4 164.4,237.8 165.7,237.9 166.9,238.1 168.2,238.4 169.4,238.6 170.7,239.1 171.9,238.4" fill="none" stroke="#70c070" stroke-width="0.9"/><circle cx="15.7" cy="246.2" r="0.95" fill="#108a10"/><circle cx="16.9" cy="244.8" r="0.95" fill="#108a10"/><circle cx="18.2" cy="245.7" r="0.95" fill="#108a10"/><circle cx="19.4" cy="245.4" r="0.95" fill="#108a10"/><circle cx="20.7" cy="245.5" r="0.95" fill="#108a10"/><circle cx="21.9" cy="245.5" r="0.95" fill="#108a10"/><circle cx="23.2" cy="245.0" r="0.95" fill="#108a10"/><circle cx="24.4" cy="245.5" r="0.95" fill="#108a10"/><circle cx="25.7" cy="245.3" r="0.95" fill="#108a10"/><circle cx="26.9" cy="246.6" r="0.95" fill="#108a10"/><circle cx="28.2" cy="245.6" r="0.95" fill="#108a10"/><circle cx="29.4" cy="245.4" r="0.95" fill="#108a10"/><circle cx="30.7" cy="245.3" r="0.95" fill="#108a10"/><circle cx="31.9" cy="245.1" r="0.95" fill="#108a10"/><circle cx="33.2" cy="244.9" r="0.95" fill="#108a10"/><circle cx="34.5" cy="244.9" r="0.95" fill="#108a10"/><circle cx="35.7" cy="245.0" r="0.95" fill="#108a10"/><circle cx="37.0" cy="244.7" r="0.95" fill="#108a10"/><circle cx="38.2" cy="244.9" r="0.95" fill="#108a10"/><circle cx="39.5" cy="244.3" r="0.95" fill="#108a10"/><circle cx="40.7" cy="244.2" r="0.95" fill="#108a10"/><circle cx="42.0" cy="244.5" r="0.95" fill="#108a10"/><circle cx="43.2" cy="243.9" r="0.95" fill="#108a10"/><circle cx="44.5" cy="243.3" r="0.95" fill="#108a10"/><circle cx="45.7" cy="243.1" r="0.95" fill="#108a10"/><circle cx="47.0" cy="243.0" r="0.95" fill="#108a10"/><circle cx="48.2" cy="243.0" r="0.95" fill="#108a10"/><circle cx="49.5" cy="241.8" r="0.95" fill="#108a10"/><circle cx="50.7" cy="241.2" r="0.95" fill="#108a10"/><circle cx="52.0" cy="240.8" r="0.95" fill="#108a10"/><circle cx="53.2" cy="239.2" r="0.95" fill="#108a10"/><circle cx="54.5" cy="238.1" r="0.95" fill="#108a10"/><circle cx="55.7" cy="236.9" r="0.95" fill="#108a10"/><circle cx="57.0" cy="234.5" r="0.95" fill="#108a10"/><circle cx="58.2" cy="231.5" r="0.95" fill="#108a10"/><circle cx="59.5" cy="227.6" r="0.95" fill="#108a10"/><circle cx="60.7" cy="221.4" r="0.95" fill="#108a10"/><circle cx="62.0" cy="216.8" r="0.95" fill="#108a10"/><circle cx="63.2" cy="209.8" r="0.95" fill="#108a10"/><circle cx="64.5" cy="203.9" r="0.95" fill="#108a10"/><circle cx="65.7" cy="198.8" r="0.95" fill="#108a10"/><circle cx="67.0" cy="191.4" r="0.95" fill="#108a10"/><circle cx="68.2" cy="184.8" r="0.95" fill="#108a10"/><circle cx="69.5" cy="178.2" r="0.95" fill="#108a10"/><circle cx="70.7" cy="173.6" r="0.95" fill="#108a10"/><circle cx="72.0" cy="169.9" r="0.95" fill="#108a10"/><circle cx="73.2" cy="167.4" r="0.95" fill="#108a10"/><circle cx="74.5" cy="164.9" r="0.95" fill="#108a10"/><circle cx="75.7" cy="164.9" r="0.95" fill="#108a10"/><circle cx="77.0" cy="166.3" r="0.95" fill="#108a10"/><circle cx="78.2" cy="167.5" r="0.95" fill="#108a10"/><circle cx="79.5" cy="169.2" r="0.95" fill="#108a10"/><circle cx="80.7" cy="172.1" r="0.95" fill="#108a10"/><circle cx="82.0" cy="175.8" r="0.95" fill="#108a10"/><circle cx="83.2" cy="179.0" r="0.95" fill="#108a10"/><circle cx="84.5" cy="182.1" r="0.95" fill="#108a10"/><circle cx="85.7" cy="184.7" r="0.95" fill="#108a10"/><circle cx="87.0" cy="185.8" r="0.95" fill="#108a10"/><circle cx="88.2" cy="187.6" r="0.95" fill="#108a10"/><circle cx="89.5" cy="187.1" r="0.95" fill="#108a10"/><circle cx="90.7" cy="185.6" r="0.95" fill="#108a10"/><circle cx="92.0" cy="184.5" r="0.95" fill="#108a10"/><circle cx="93.2" cy="182.2" r="0.95" fill="#108a10"/><circle cx="94.5" cy="180.6" r="0.95" fill="#108a10"/><circle cx="95.7" cy="177.6" r="0.95" fill="#108a10"/><circle cx="97.0" cy="175.5" r="0.95" fill="#108a10"/><circle cx="98.2" cy="173.2" r="0.95" fill="#108a10"/><circle cx="99.5" cy="170.3" r="0.95" fill="#108a10"/><circle cx="100.7" cy="166.8" r="0.95" fill="#108a10"/><circle cx="102.0" cy="165.0" r="0.95" fill="#108a10"/><circle cx="103.2" cy="163.7" r="0.95" fill="#108a10"/><circle cx="104.5" cy="162.5" r="0.95" fill="#108a10"/><circle cx="105.7" cy="163.2" r="0.95" fill="#108a10"/><circle cx="107.0" cy="162.8" r="0.95" fill="#108a10"/><circle cx="108.2" cy="164.5" r="0.95" fill="#108a10"/><circle cx="109.5" cy="165.8" r="0.95" fill="#108a10"/><circle cx="110.7" cy="168.5" r="0.95" fill="#108a10"/><circle cx="112.0" cy="170.4" r="0.95" fill="#108a10"/><circle cx="113.2" cy="172.8" r="0.95" fill="#108a10"/><circle cx="114.5" cy="175.1" r="0.95" fill="#108a10"/><circle cx="115.7" cy="178.9" r="0.95" fill="#108a10"/><circle cx="117.0" cy="181.6" r="0.95" fill="#108a10"/><circle cx="118.2" cy="184.9" r="0.95" fill="#108a10"/><circle cx="119.5" cy="188.2" r="0.95" fill="#108a10"/><circle cx="120.7" cy="191.2" r="0.95" fill="#108a10"/><circle cx="122.0" cy="194.1" r="0.95" fill="#108a10"/><circle cx="123.2" cy="197.1" r="0.95" fill="#108a10"/><circle cx="124.5" cy="199.6" r="0.95" fill="#108a10"/><circle cx="125.7" cy="202.7" r="0.95" fill="#108a10"/><circle cx="127.0" cy="204.6" r="0.95" fill="#108a10"/><circle cx="128.2" cy="208.0" r="0.95" fill="#108a10"/><circle cx="129.4" cy="211.2" r="0.95" fill="#108a10"/><circle cx="130.7" cy="214.3" r="0.95" fill="#108a10"/><circle cx="131.9" cy="216.9" r="0.95" fill="#108a10"/><circle cx="133.2" cy="218.8" r="0.95" fill="#108a10"/><circle cx="134.4" cy="220.9" r="0.95" fill="#108a10"/><circle cx="135.7" cy="223.4" r="0.95" fill="#108a10"/><circle cx="136.9" cy="225.5" r="0.95" fill="#108a10"/><circle cx="138.2" cy="227.0" r="0.95" fill="#108a10"/><circle cx="139.4" cy="228.4" r="0.95" fill="#108a10"/><circle cx="140.7" cy="229.6" r="0.95" fill="#108a10"/><circle cx="141.9" cy="231.0" r="0.95" fill="#108a10"/><circle cx="143.2" cy="231.9" r="0.95" fill="#108a10"/><circle cx="144.4" cy="233.3" r="0.95" fill="#108a10"/><circle cx="145.7" cy="233.7" r="0.95" fill="#108a10"/><circle cx="146.9" cy="234.9" r="0.95" fill="#108a10"/><circle cx="148.2" cy="235.6" r="0.95" fill="#108a10"/><circle cx="149.4" cy="236.3" r="0.95" fill="#108a10"/><circle cx="150.7" cy="236.6" r="0.95" fill="#108a10"/><circle cx="151.9" cy="237.5" r="0.95" fill="#108a10"/><circle cx="153.2" cy="237.4" r="0.95" fill="#108a10"/><circle cx="154.4" cy="237.6" r="0.95" fill="#108a10"/><circle cx="155.7" cy="236.6" r="0.95" fill="#108a10"/><circle cx="156.9" cy="237.3" r="0.95" fill="#108a10"/><circle cx="158.2" cy="237.3" r="0.95" fill="#108a10"/><circle cx="159.4" cy="237.8" r="0.95" fill="#108a10"/><circle cx="160.7" cy="237.1" r="0.95" fill="#108a10"/><circle cx="161.9" cy="238.3" r="0.95" fill="#108a10"/><circle cx="163.2" cy="238.4" r="0.95" fill="#108a10"/><circle cx="164.4" cy="237.8" r="0.95" fill="#108a10"/><circle cx="165.7" cy="237.9" r="0.95" fill="#108a10"/><circle cx="166.9" cy="238.1" r="0.95" fill="#108a10"/><circle cx="168.2" cy="238.4" r="0.95" fill="#108a10"/><circle cx="169.4" cy="238.6" r="0.95" fill="#108a10"/><circle cx="170.7" cy="239.1" r="0.95" fill="#108a10"/><circle cx="171.9" cy="238.4" r="0.95" fill="#108a10"/><polyline points="192.4,243.2 193.2,244.4 193.9,249.4 194.7,246.5 195.4,240.0 196.2,244.5 196.9,242.6 197.7,244.7 198.4,239.7 199.2,244.8 199.9,244.6 200.7,248.3 201.4,244.7 202.2,245.2 202.9,239.5 203.7,249.9 204.4,238.2 205.2,246.6 205.9,242.5 206.7,240.8 207.4,241.4 208.2,241.2 208.9,244.0 209.7,242.5 210.4,246.8 211.2,237.3 211.9,242.0 212.7,238.7 213.4,239.0 214.2,231.2 214.9,232.7 215.7,231.0 216.4,223.8 217.2,228.3 217.9,223.1 218.7,221.9 219.4,217.8 220.2,208.3 220.9,204.7 221.7,199.4 222.4,201.3 223.2,197.8 223.9,189.7 224.7,186.4 225.4,184.4 226.2,183.4 226.9,178.1 227.7,175.5 228.4,178.7 229.2,168.2 229.9,165.2 230.7,166.1 231.4,163.8 232.2,168.1 232.9,171.9 233.7,177.4 234.4,174.9 235.2,185.8 235.9,184.3 236.7,189.1 237.4,194.6 238.2,197.7 238.9,202.1 239.7,202.1 240.4,203.3 241.2,205.7 241.9,203.2 242.7,210.5 243.4,210.1 244.2,205.3 244.9,215.3 245.7,209.9 246.4,207.4 247.2,216.2 247.9,210.2 248.7,214.3 249.4,209.1 250.2,210.8 250.9,206.9 251.7,206.3 252.4,209.0 253.2,211.6 253.9,214.1 254.7,218.7 255.4,204.9 256.1,215.0 256.9,210.6 257.6,212.1 258.4,208.5 259.1,208.6 259.9,210.7 260.6,209.6 261.4,212.4 262.1,211.1 262.9,216.6 263.6,213.6 264.4,213.6 265.1,216.4 265.9,213.6 266.6,213.1 267.4,213.0 268.1,212.9 268.9,216.3 269.6,215.5 270.4,214.3 271.1,215.5 271.9,211.8 272.6,214.7 273.4,209.3 274.1,217.0 274.9,213.5 275.6,213.7 276.4,214.8 277.1,213.0 277.9,212.3 278.6,212.3 279.4,213.2 280.1,210.3 280.9,213.9 281.6,207.4 282.4,214.5 283.1,210.0 283.9,209.6 284.6,214.8 285.4,213.5 286.1,206.8 286.9,207.0 287.6,207.1 288.4,207.5 289.1,195.5 289.9,200.6 290.6,202.2 291.4,198.1 292.1,197.9 292.9,195.9 293.6,189.3 294.4,188.8 295.1,182.3 295.9,187.6 296.6,190.7 297.4,182.5 298.1,187.7 298.9,185.8 299.6,181.7 300.4,180.6 301.1,179.7 301.9,176.2 302.6,182.6 303.4,176.9 304.1,178.3 304.9,179.0 305.6,179.5 306.4,181.3 307.1,178.1 307.9,181.2 308.6,184.4 309.4,184.9 310.1,185.9 310.9,188.1 311.6,186.9 312.4,187.5 313.1,189.6 313.9,187.9 314.6,191.2 315.4,197.3 316.1,193.1 316.9,179.0 317.6,192.1 318.4,198.4 319.1,194.1 319.9,195.4 320.6,192.3 321.4,198.8 322.1,203.0 322.9,197.6 323.6,197.1 324.4,196.2 325.1,197.7 325.9,193.0 326.6,198.8 327.4,197.2 328.1,196.6 328.9,199.2 329.6,197.2 330.4,189.0 331.1,201.7 331.9,200.3 332.6,197.1 333.4,196.5 334.1,198.2 334.9,188.7 335.6,198.5 336.4,197.0 337.1,196.7 337.9,195.1 338.6,195.8 339.4,202.4 340.1,201.5 340.9,199.2 341.6,197.8 342.4,195.5 343.1,200.0 343.9,202.6 344.6,193.8 345.4,201.8 346.1,192.8 346.9,201.3 347.6,200.6 348.4,196.0" fill="none" stroke="#ffb070" stroke-width="0.7"/><circle cx="192.4" cy="243.2" r="1.05" fill="#ff7000"/><circle cx="193.2" cy="244.4" r="1.05" fill="#ff7000"/><circle cx="193.9" cy="249.4" r="1.05" fill="#ff7000"/><circle cx="194.7" cy="246.5" r="1.05" fill="#ff7000"/><circle cx="195.4" cy="240.0" r="1.05" fill="#ff7000"/><circle cx="196.2" cy="244.5" r="1.05" fill="#ff7000"/><circle cx="196.9" cy="242.6" r="1.05" fill="#ff7000"/><circle cx="197.7" cy="244.7" r="1.05" fill="#ff7000"/><circle cx="198.4" cy="239.7" r="1.05" fill="#ff7000"/><circle cx="199.2" cy="244.8" r="1.05" fill="#ff7000"/><circle cx="199.9" cy="244.6" r="1.05" fill="#ff7000"/><circle cx="200.7" cy="248.3" r="1.05" fill="#ff7000"/><circle cx="201.4" cy="244.7" r="1.05" fill="#ff7000"/><circle cx="202.2" cy="245.2" r="1.05" fill="#ff7000"/><circle cx="202.9" cy="239.5" r="1.05" fill="#ff7000"/><circle cx="203.7" cy="249.9" r="1.05" fill="#ff7000"/><circle cx="204.4" cy="238.2" r="1.05" fill="#ff7000"/><circle cx="205.2" cy="246.6" r="1.05" fill="#ff7000"/><circle cx="205.9" cy="242.5" r="1.05" fill="#ff7000"/><circle cx="206.7" cy="240.8" r="1.05" fill="#ff7000"/><circle cx="207.4" cy="241.4" r="1.05" fill="#ff7000"/><circle cx="208.2" cy="241.2" r="1.05" fill="#ff7000"/><circle cx="208.9" cy="244.0" r="1.05" fill="#ff7000"/><circle cx="209.7" cy="242.5" r="1.05" fill="#ff7000"/><circle cx="210.4" cy="246.8" r="1.05" fill="#ff7000"/><circle cx="211.2" cy="237.3" r="1.05" fill="#ff7000"/><circle cx="211.9" cy="242.0" r="1.05" fill="#ff7000"/><circle cx="212.7" cy="238.7" r="1.05" fill="#ff7000"/><circle cx="213.4" cy="239.0" r="1.05" fill="#ff7000"/><circle cx="214.2" cy="231.2" r="1.05" fill="#ff7000"/><circle cx="214.9" cy="232.7" r="1.05" fill="#ff7000"/><circle cx="215.7" cy="231.0" r="1.05" fill="#ff7000"/><circle cx="216.4" cy="223.8" r="1.05" fill="#ff7000"/><circle cx="217.2" cy="228.3" r="1.05" fill="#ff7000"/><circle cx="217.9" cy="223.1" r="1.05" fill="#ff7000"/><circle cx="218.7" cy="221.9" r="1.05" fill="#ff7000"/><circle cx="219.4" cy="217.8" r="1.05" fill="#ff7000"/><circle cx="220.2" cy="208.3" r="1.05" fill="#ff7000"/><circle cx="220.9" cy="204.7" r="1.05" fill="#ff7000"/><circle cx="221.7" cy="199.4" r="1.05" fill="#ff7000"/><circle cx="222.4" cy="201.3" r="1.05" fill="#ff7000"/><circle cx="223.2" cy="197.8" r="1.05" fill="#ff7000"/><circle cx="223.9" cy="189.7" r="1.05" fill="#ff7000"/><circle cx="224.7" cy="186.4" r="1.05" fill="#ff7000"/><circle cx="225.4" cy="184.4" r="1.05" fill="#ff7000"/><circle cx="226.2" cy="183.4" r="1.05" fill="#ff7000"/><circle cx="226.9" cy="178.1" r="1.05" fill="#ff7000"/><circle cx="227.7" cy="175.5" r="1.05" fill="#ff7000"/><circle cx="228.4" cy="178.7" r="1.05" fill="#ff7000"/><circle cx="229.2" cy="168.2" r="1.05" fill="#ff7000"/><circle cx="229.9" cy="165.2" r="1.05" fill="#ff7000"/><circle cx="230.7" cy="166.1" r="1.05" fill="#ff7000"/><circle cx="231.4" cy="163.8" r="1.05" fill="#ff7000"/><circle cx="232.2" cy="168.1" r="1.05" fill="#ff7000"/><circle cx="232.9" cy="171.9" r="1.05" fill="#ff7000"/><circle cx="233.7" cy="177.4" r="1.05" fill="#ff7000"/><circle cx="234.4" cy="174.9" r="1.05" fill="#ff7000"/><circle cx="235.2" cy="185.8" r="1.05" fill="#ff7000"/><circle cx="235.9" cy="184.3" r="1.05" fill="#ff7000"/><circle cx="236.7" cy="189.1" r="1.05" fill="#ff7000"/><circle cx="237.4" cy="194.6" r="1.05" fill="#ff7000"/><circle cx="238.2" cy="197.7" r="1.05" fill="#ff7000"/><circle cx="238.9" cy="202.1" r="1.05" fill="#ff7000"/><circle cx="239.7" cy="202.1" r="1.05" fill="#ff7000"/><circle cx="240.4" cy="203.3" r="1.05" fill="#ff7000"/><circle cx="241.2" cy="205.7" r="1.05" fill="#ff7000"/><circle cx="241.9" cy="203.2" r="1.05" fill="#ff7000"/><circle cx="242.7" cy="210.5" r="1.05" fill="#ff7000"/><circle cx="243.4" cy="210.1" r="1.05" fill="#ff7000"/><circle cx="244.2" cy="205.3" r="1.05" fill="#ff7000"/><circle cx="244.9" cy="215.3" r="1.05" fill="#ff7000"/><circle cx="245.7" cy="209.9" r="1.05" fill="#ff7000"/><circle cx="246.4" cy="207.4" r="1.05" fill="#ff7000"/><circle cx="247.2" cy="216.2" r="1.05" fill="#ff7000"/><circle cx="247.9" cy="210.2" r="1.05" fill="#ff7000"/><circle cx="248.7" cy="214.3" r="1.05" fill="#ff7000"/><circle cx="249.4" cy="209.1" r="1.05" fill="#ff7000"/><circle cx="250.2" cy="210.8" r="1.05" fill="#ff7000"/><circle cx="250.9" cy="206.9" r="1.05" fill="#ff7000"/><circle cx="251.7" cy="206.3" r="1.05" fill="#ff7000"/><circle cx="252.4" cy="209.0" r="1.05" fill="#ff7000"/><circle cx="253.2" cy="211.6" r="1.05" fill="#ff7000"/><circle cx="253.9" cy="214.1" r="1.05" fill="#ff7000"/><circle cx="254.7" cy="218.7" r="1.05" fill="#ff7000"/><circle cx="255.4" cy="204.9" r="1.05" fill="#ff7000"/><circle cx="256.1" cy="215.0" r="1.05" fill="#ff7000"/><circle cx="256.9" cy="210.6" r="1.05" fill="#ff7000"/><circle cx="257.6" cy="212.1" r="1.05" fill="#ff7000"/><circle cx="258.4" cy="208.5" r="1.05" fill="#ff7000"/><circle cx="259.1" cy="208.6" r="1.05" fill="#ff7000"/><circle cx="259.9" cy="210.7" r="1.05" fill="#ff7000"/><circle cx="260.6" cy="209.6" r="1.05" fill="#ff7000"/><circle cx="261.4" cy="212.4" r="1.05" fill="#ff7000"/><circle cx="262.1" cy="211.1" r="1.05" fill="#ff7000"/><circle cx="262.9" cy="216.6" r="1.05" fill="#ff7000"/><circle cx="263.6" cy="213.6" r="1.05" fill="#ff7000"/><circle cx="264.4" cy="213.6" r="1.05" fill="#ff7000"/><circle cx="265.1" cy="216.4" r="1.05" fill="#ff7000"/><circle cx="265.9" cy="213.6" r="1.05" fill="#ff7000"/><circle cx="266.6" cy="213.1" r="1.05" fill="#ff7000"/><circle cx="267.4" cy="213.0" r="1.05" fill="#ff7000"/><circle cx="268.1" cy="212.9" r="1.05" fill="#ff7000"/><circle cx="268.9" cy="216.3" r="1.05" fill="#ff7000"/><circle cx="269.6" cy="215.5" r="1.05" fill="#ff7000"/><circle cx="270.4" cy="214.3" r="1.05" fill="#ff7000"/><circle cx="271.1" cy="215.5" r="1.05" fill="#ff7000"/><circle cx="271.9" cy="211.8" r="1.05" fill="#ff7000"/><circle cx="272.6" cy="214.7" r="1.05" fill="#ff7000"/><circle cx="273.4" cy="209.3" r="1.05" fill="#ff7000"/><circle cx="274.1" cy="217.0" r="1.05" fill="#ff7000"/><circle cx="274.9" cy="213.5" r="1.05" fill="#ff7000"/><circle cx="275.6" cy="213.7" r="1.05" fill="#ff7000"/><circle cx="276.4" cy="214.8" r="1.05" fill="#ff7000"/><circle cx="277.1" cy="213.0" r="1.05" fill="#ff7000"/><circle cx="277.9" cy="212.3" r="1.05" fill="#ff7000"/><circle cx="278.6" cy="212.3" r="1.05" fill="#ff7000"/><circle cx="279.4" cy="213.2" r="1.05" fill="#ff7000"/><circle cx="280.1" cy="210.3" r="1.05" fill="#ff7000"/><circle cx="280.9" cy="213.9" r="1.05" fill="#ff7000"/><circle cx="281.6" cy="207.4" r="1.05" fill="#ff7000"/><circle cx="282.4" cy="214.5" r="1.05" fill="#ff7000"/><circle cx="283.1" cy="210.0" r="1.05" fill="#ff7000"/><circle cx="283.9" cy="209.6" r="1.05" fill="#ff7000"/><circle cx="284.6" cy="214.8" r="1.05" fill="#ff7000"/><circle cx="285.4" cy="213.5" r="1.05" fill="#ff7000"/><circle cx="286.1" cy="206.8" r="1.05" fill="#ff7000"/><circle cx="286.9" cy="207.0" r="1.05" fill="#ff7000"/><circle cx="287.6" cy="207.1" r="1.05" fill="#ff7000"/><circle cx="288.4" cy="207.5" r="1.05" fill="#ff7000"/><circle cx="289.1" cy="195.5" r="1.05" fill="#ff7000"/><circle cx="289.9" cy="200.6" r="1.05" fill="#ff7000"/><circle cx="290.6" cy="202.2" r="1.05" fill="#ff7000"/><circle cx="291.4" cy="198.1" r="1.05" fill="#ff7000"/><circle cx="292.1" cy="197.9" r="1.05" fill="#ff7000"/><circle cx="292.9" cy="195.9" r="1.05" fill="#ff7000"/><circle cx="293.6" cy="189.3" r="1.05" fill="#ff7000"/><circle cx="294.4" cy="188.8" r="1.05" fill="#ff7000"/><circle cx="295.1" cy="182.3" r="1.05" fill="#ff7000"/><circle cx="295.9" cy="187.6" r="1.05" fill="#ff7000"/><circle cx="296.6" cy="190.7" r="1.05" fill="#ff7000"/><circle cx="297.4" cy="182.5" r="1.05" fill="#ff7000"/><circle cx="298.1" cy="187.7" r="1.05" fill="#ff7000"/><circle cx="298.9" cy="185.8" r="1.05" fill="#ff7000"/><circle cx="299.6" cy="181.7" r="1.05" fill="#ff7000"/><circle cx="300.4" cy="180.6" r="1.05" fill="#ff7000"/><circle cx="301.1" cy="179.7" r="1.05" fill="#ff7000"/><circle cx="301.9" cy="176.2" r="1.05" fill="#ff7000"/><circle cx="302.6" cy="182.6" r="1.05" fill="#ff7000"/><circle cx="303.4" cy="176.9" r="1.05" fill="#ff7000"/><circle cx="304.1" cy="178.3" r="1.05" fill="#ff7000"/><circle cx="304.9" cy="179.0" r="1.05" fill="#ff7000"/><circle cx="305.6" cy="179.5" r="1.05" fill="#ff7000"/><circle cx="306.4" cy="181.3" r="1.05" fill="#ff7000"/><circle cx="307.1" cy="178.1" r="1.05" fill="#ff7000"/><circle cx="307.9" cy="181.2" r="1.05" fill="#ff7000"/><circle cx="308.6" cy="184.4" r="1.05" fill="#ff7000"/><circle cx="309.4" cy="184.9" r="1.05" fill="#ff7000"/><circle cx="310.1" cy="185.9" r="1.05" fill="#ff7000"/><circle cx="310.9" cy="188.1" r="1.05" fill="#ff7000"/><circle cx="311.6" cy="186.9" r="1.05" fill="#ff7000"/><circle cx="312.4" cy="187.5" r="1.05" fill="#ff7000"/><circle cx="313.1" cy="189.6" r="1.05" fill="#ff7000"/><circle cx="313.9" cy="187.9" r="1.05" fill="#ff7000"/><circle cx="314.6" cy="191.2" r="1.05" fill="#ff7000"/><circle cx="315.4" cy="197.3" r="1.05" fill="#ff7000"/><circle cx="316.1" cy="193.1" r="1.05" fill="#ff7000"/><circle cx="316.9" cy="179.0" r="1.05" fill="#ff7000"/><circle cx="317.6" cy="192.1" r="1.05" fill="#ff7000"/><circle cx="318.4" cy="198.4" r="1.05" fill="#ff7000"/><circle cx="319.1" cy="194.1" r="1.05" fill="#ff7000"/><circle cx="319.9" cy="195.4" r="1.05" fill="#ff7000"/><circle cx="320.6" cy="192.3" r="1.05" fill="#ff7000"/><circle cx="321.4" cy="198.8" r="1.05" fill="#ff7000"/><circle cx="322.1" cy="203.0" r="1.05" fill="#ff7000"/><circle cx="322.9" cy="197.6" r="1.05" fill="#ff7000"/><circle cx="323.6" cy="197.1" r="1.05" fill="#ff7000"/><circle cx="324.4" cy="196.2" r="1.05" fill="#ff7000"/><circle cx="325.1" cy="197.7" r="1.05" fill="#ff7000"/><circle cx="325.9" cy="193.0" r="1.05" fill="#ff7000"/><circle cx="326.6" cy="198.8" r="1.05" fill="#ff7000"/><circle cx="327.4" cy="197.2" r="1.05" fill="#ff7000"/><circle cx="328.1" cy="196.6" r="1.05" fill="#ff7000"/><circle cx="328.9" cy="199.2" r="1.05" fill="#ff7000"/><circle cx="329.6" cy="197.2" r="1.05" fill="#ff7000"/><circle cx="330.4" cy="189.0" r="1.05" fill="#ff7000"/><circle cx="331.1" cy="201.7" r="1.05" fill="#ff7000"/><circle cx="331.9" cy="200.3" r="1.05" fill="#ff7000"/><circle cx="332.6" cy="197.1" r="1.05" fill="#ff7000"/><circle cx="333.4" cy="196.5" r="1.05" fill="#ff7000"/><circle cx="334.1" cy="198.2" r="1.05" fill="#ff7000"/><circle cx="334.9" cy="188.7" r="1.05" fill="#ff7000"/><circle cx="335.6" cy="198.5" r="1.05" fill="#ff7000"/><circle cx="336.4" cy="197.0" r="1.05" fill="#ff7000"/><circle cx="337.1" cy="196.7" r="1.05" fill="#ff7000"/><circle cx="337.9" cy="195.1" r="1.05" fill="#ff7000"/><circle cx="338.6" cy="195.8" r="1.05" fill="#ff7000"/><circle cx="339.4" cy="202.4" r="1.05" fill="#ff7000"/><circle cx="340.1" cy="201.5" r="1.05" fill="#ff7000"/><circle cx="340.9" cy="199.2" r="1.05" fill="#ff7000"/><circle cx="341.6" cy="197.8" r="1.05" fill="#ff7000"/><circle cx="342.4" cy="195.5" r="1.05" fill="#ff7000"/><circle cx="343.1" cy="200.0" r="1.05" fill="#ff7000"/><circle cx="343.9" cy="202.6" r="1.05" fill="#ff7000"/><circle cx="344.6" cy="193.8" r="1.05" fill="#ff7000"/><circle cx="345.4" cy="201.8" r="1.05" fill="#ff7000"/><circle cx="346.1" cy="192.8" r="1.05" fill="#ff7000"/><circle cx="346.9" cy="201.3" r="1.05" fill="#ff7000"/><circle cx="347.6" cy="200.6" r="1.05" fill="#ff7000"/><circle cx="348.4" cy="196.0" r="1.05" fill="#ff7000"/><polyline points="368.7,203.1 369.5,207.0 370.3,220.7 371.1,222.9 371.9,227.9 372.7,225.8 373.5,220.6 374.3,226.6 375.1,231.9 375.9,236.2 376.7,232.5 377.5,228.1 378.3,230.0 379.1,240.0 379.9,235.7 380.7,229.2 381.5,229.5 382.3,232.3 383.1,234.6 383.9,235.5 384.7,234.9 385.5,239.6 386.3,237.5 387.1,238.6 387.9,239.4 388.7,240.9 389.5,232.1 390.3,237.1 391.1,234.5 391.9,237.4 392.7,233.4 393.5,238.1 394.3,237.9 395.1,236.9 395.9,237.1 396.7,236.4 397.5,233.7 398.3,231.1 399.1,238.1 399.9,233.0 400.7,234.6 401.5,239.1 402.3,229.0 403.1,238.6 403.9,231.6 404.7,235.3 405.5,240.3 406.3,227.2 407.1,233.1 407.9,235.3 408.7,233.6 409.5,228.1 410.3,234.4 411.1,226.9 411.9,228.9 412.7,226.5 413.5,234.2 414.3,230.6 415.1,242.1 415.9,229.9 416.7,230.2 417.5,229.6 418.3,223.9 419.1,225.3 419.9,229.9 420.7,223.1 421.5,224.7 422.3,223.4 423.1,225.2 423.9,221.2 424.7,221.4 425.5,222.4 426.3,227.8 427.1,217.4 427.9,223.2 428.7,214.8 429.5,214.7 430.3,213.8 431.1,221.4 431.9,216.1 432.7,213.4 433.5,212.4 434.3,217.8 435.1,212.2 435.9,211.1 436.7,211.4 437.5,210.9 438.3,213.9 439.1,215.0 439.9,213.6 440.7,218.6 441.5,222.9 442.3,218.2 443.1,217.3 443.9,216.7 444.7,224.1 445.5,225.0 446.3,230.3 447.1,226.8 447.9,227.5 448.7,227.3 449.5,228.7 450.3,231.7 451.1,230.2 451.9,232.4 452.7,241.6 453.5,238.0 454.3,226.8 455.1,238.0 455.9,231.8 456.7,225.8 457.5,231.2 458.3,229.9 459.1,220.6 459.9,221.2 460.7,223.7 461.5,227.6 462.3,225.1 463.1,226.7 463.9,229.5 464.7,234.7 465.5,223.0 466.3,227.0 467.1,223.2 467.9,218.6 468.7,216.8 469.5,218.8 470.3,218.6 471.1,213.1 471.9,213.3 472.7,214.3 473.5,205.7 474.3,214.2 475.1,212.8 475.9,213.1 476.7,218.2 477.5,214.2 478.3,212.7 479.1,215.3 479.9,211.1 480.7,212.9 481.5,218.0 482.3,218.7 483.1,223.6 483.9,219.7 484.7,216.9 485.5,231.8 486.3,230.6 487.1,223.6 487.9,232.9 488.7,228.5 489.5,222.1 490.3,227.4 491.1,227.2 491.9,234.5 492.7,225.0 493.5,225.7 494.3,224.3 495.1,221.6 495.9,220.2 496.7,224.1 497.5,227.1 498.3,225.3 499.1,226.1 499.9,218.9 500.7,224.0 501.5,218.2 502.3,224.8 503.1,222.7 503.9,236.5 504.7,232.7 505.5,225.8 506.3,232.4 507.1,233.9 507.9,218.9 508.7,227.1 509.5,227.9 510.3,231.8 511.1,229.4 511.9,229.3 512.7,230.5 513.5,238.2 514.3,240.2 515.1,231.4 515.9,230.8 516.7,243.6 517.5,232.7 518.3,235.2 519.1,238.3 519.9,240.5 520.7,236.9 521.5,240.4 522.3,235.8 523.1,240.7 523.9,239.6 524.7,245.2 525.5,237.9" fill="none" stroke="#ffb070" stroke-width="0.7"/><circle cx="368.7" cy="203.1" r="1.05" fill="#ff7000"/><circle cx="369.5" cy="207.0" r="1.05" fill="#ff7000"/><circle cx="370.3" cy="220.7" r="1.05" fill="#ff7000"/><circle cx="371.1" cy="222.9" r="1.05" fill="#ff7000"/><circle cx="371.9" cy="227.9" r="1.05" fill="#ff7000"/><circle cx="372.7" cy="225.8" r="1.05" fill="#ff7000"/><circle cx="373.5" cy="220.6" r="1.05" fill="#ff7000"/><circle cx="374.3" cy="226.6" r="1.05" fill="#ff7000"/><circle cx="375.1" cy="231.9" r="1.05" fill="#ff7000"/><circle cx="375.9" cy="236.2" r="1.05" fill="#ff7000"/><circle cx="376.7" cy="232.5" r="1.05" fill="#ff7000"/><circle cx="377.5" cy="228.1" r="1.05" fill="#ff7000"/><circle cx="378.3" cy="230.0" r="1.05" fill="#ff7000"/><circle cx="379.1" cy="240.0" r="1.05" fill="#ff7000"/><circle cx="379.9" cy="235.7" r="1.05" fill="#ff7000"/><circle cx="380.7" cy="229.2" r="1.05" fill="#ff7000"/><circle cx="381.5" cy="229.5" r="1.05" fill="#ff7000"/><circle cx="382.3" cy="232.3" r="1.05" fill="#ff7000"/><circle cx="383.1" cy="234.6" r="1.05" fill="#ff7000"/><circle cx="383.9" cy="235.5" r="1.05" fill="#ff7000"/><circle cx="384.7" cy="234.9" r="1.05" fill="#ff7000"/><circle cx="385.5" cy="239.6" r="1.05" fill="#ff7000"/><circle cx="386.3" cy="237.5" r="1.05" fill="#ff7000"/><circle cx="387.1" cy="238.6" r="1.05" fill="#ff7000"/><circle cx="387.9" cy="239.4" r="1.05" fill="#ff7000"/><circle cx="388.7" cy="240.9" r="1.05" fill="#ff7000"/><circle cx="389.5" cy="232.1" r="1.05" fill="#ff7000"/><circle cx="390.3" cy="237.1" r="1.05" fill="#ff7000"/><circle cx="391.1" cy="234.5" r="1.05" fill="#ff7000"/><circle cx="391.9" cy="237.4" r="1.05" fill="#ff7000"/><circle cx="392.7" cy="233.4" r="1.05" fill="#ff7000"/><circle cx="393.5" cy="238.1" r="1.05" fill="#ff7000"/><circle cx="394.3" cy="237.9" r="1.05" fill="#ff7000"/><circle cx="395.1" cy="236.9" r="1.05" fill="#ff7000"/><circle cx="395.9" cy="237.1" r="1.05" fill="#ff7000"/><circle cx="396.7" cy="236.4" r="1.05" fill="#ff7000"/><circle cx="397.5" cy="233.7" r="1.05" fill="#ff7000"/><circle cx="398.3" cy="231.1" r="1.05" fill="#ff7000"/><circle cx="399.1" cy="238.1" r="1.05" fill="#ff7000"/><circle cx="399.9" cy="233.0" r="1.05" fill="#ff7000"/><circle cx="400.7" cy="234.6" r="1.05" fill="#ff7000"/><circle cx="401.5" cy="239.1" r="1.05" fill="#ff7000"/><circle cx="402.3" cy="229.0" r="1.05" fill="#ff7000"/><circle cx="403.1" cy="238.6" r="1.05" fill="#ff7000"/><circle cx="403.9" cy="231.6" r="1.05" fill="#ff7000"/><circle cx="404.7" cy="235.3" r="1.05" fill="#ff7000"/><circle cx="405.5" cy="240.3" r="1.05" fill="#ff7000"/><circle cx="406.3" cy="227.2" r="1.05" fill="#ff7000"/><circle cx="407.1" cy="233.1" r="1.05" fill="#ff7000"/><circle cx="407.9" cy="235.3" r="1.05" fill="#ff7000"/><circle cx="408.7" cy="233.6" r="1.05" fill="#ff7000"/><circle cx="409.5" cy="228.1" r="1.05" fill="#ff7000"/><circle cx="410.3" cy="234.4" r="1.05" fill="#ff7000"/><circle cx="411.1" cy="226.9" r="1.05" fill="#ff7000"/><circle cx="411.9" cy="228.9" r="1.05" fill="#ff7000"/><circle cx="412.7" cy="226.5" r="1.05" fill="#ff7000"/><circle cx="413.5" cy="234.2" r="1.05" fill="#ff7000"/><circle cx="414.3" cy="230.6" r="1.05" fill="#ff7000"/><circle cx="415.1" cy="242.1" r="1.05" fill="#ff7000"/><circle cx="415.9" cy="229.9" r="1.05" fill="#ff7000"/><circle cx="416.7" cy="230.2" r="1.05" fill="#ff7000"/><circle cx="417.5" cy="229.6" r="1.05" fill="#ff7000"/><circle cx="418.3" cy="223.9" r="1.05" fill="#ff7000"/><circle cx="419.1" cy="225.3" r="1.05" fill="#ff7000"/><circle cx="419.9" cy="229.9" r="1.05" fill="#ff7000"/><circle cx="420.7" cy="223.1" r="1.05" fill="#ff7000"/><circle cx="421.5" cy="224.7" r="1.05" fill="#ff7000"/><circle cx="422.3" cy="223.4" r="1.05" fill="#ff7000"/><circle cx="423.1" cy="225.2" r="1.05" fill="#ff7000"/><circle cx="423.9" cy="221.2" r="1.05" fill="#ff7000"/><circle cx="424.7" cy="221.4" r="1.05" fill="#ff7000"/><circle cx="425.5" cy="222.4" r="1.05" fill="#ff7000"/><circle cx="426.3" cy="227.8" r="1.05" fill="#ff7000"/><circle cx="427.1" cy="217.4" r="1.05" fill="#ff7000"/><circle cx="427.9" cy="223.2" r="1.05" fill="#ff7000"/><circle cx="428.7" cy="214.8" r="1.05" fill="#ff7000"/><circle cx="429.5" cy="214.7" r="1.05" fill="#ff7000"/><circle cx="430.3" cy="213.8" r="1.05" fill="#ff7000"/><circle cx="431.1" cy="221.4" r="1.05" fill="#ff7000"/><circle cx="431.9" cy="216.1" r="1.05" fill="#ff7000"/><circle cx="432.7" cy="213.4" r="1.05" fill="#ff7000"/><circle cx="433.5" cy="212.4" r="1.05" fill="#ff7000"/><circle cx="434.3" cy="217.8" r="1.05" fill="#ff7000"/><circle cx="435.1" cy="212.2" r="1.05" fill="#ff7000"/><circle cx="435.9" cy="211.1" r="1.05" fill="#ff7000"/><circle cx="436.7" cy="211.4" r="1.05" fill="#ff7000"/><circle cx="437.5" cy="210.9" r="1.05" fill="#ff7000"/><circle cx="438.3" cy="213.9" r="1.05" fill="#ff7000"/><circle cx="439.1" cy="215.0" r="1.05" fill="#ff7000"/><circle cx="439.9" cy="213.6" r="1.05" fill="#ff7000"/><circle cx="440.7" cy="218.6" r="1.05" fill="#ff7000"/><circle cx="441.5" cy="222.9" r="1.05" fill="#ff7000"/><circle cx="442.3" cy="218.2" r="1.05" fill="#ff7000"/><circle cx="443.1" cy="217.3" r="1.05" fill="#ff7000"/><circle cx="443.9" cy="216.7" r="1.05" fill="#ff7000"/><circle cx="444.7" cy="224.1" r="1.05" fill="#ff7000"/><circle cx="445.5" cy="225.0" r="1.05" fill="#ff7000"/><circle cx="446.3" cy="230.3" r="1.05" fill="#ff7000"/><circle cx="447.1" cy="226.8" r="1.05" fill="#ff7000"/><circle cx="447.9" cy="227.5" r="1.05" fill="#ff7000"/><circle cx="448.7" cy="227.3" r="1.05" fill="#ff7000"/><circle cx="449.5" cy="228.7" r="1.05" fill="#ff7000"/><circle cx="450.3" cy="231.7" r="1.05" fill="#ff7000"/><circle cx="451.1" cy="230.2" r="1.05" fill="#ff7000"/><circle cx="451.9" cy="232.4" r="1.05" fill="#ff7000"/><circle cx="452.7" cy="241.6" r="1.05" fill="#ff7000"/><circle cx="453.5" cy="238.0" r="1.05" fill="#ff7000"/><circle cx="454.3" cy="226.8" r="1.05" fill="#ff7000"/><circle cx="455.1" cy="238.0" r="1.05" fill="#ff7000"/><circle cx="455.9" cy="231.8" r="1.05" fill="#ff7000"/><circle cx="456.7" cy="225.8" r="1.05" fill="#ff7000"/><circle cx="457.5" cy="231.2" r="1.05" fill="#ff7000"/><circle cx="458.3" cy="229.9" r="1.05" fill="#ff7000"/><circle cx="459.1" cy="220.6" r="1.05" fill="#ff7000"/><circle cx="459.9" cy="221.2" r="1.05" fill="#ff7000"/><circle cx="460.7" cy="223.7" r="1.05" fill="#ff7000"/><circle cx="461.5" cy="227.6" r="1.05" fill="#ff7000"/><circle cx="462.3" cy="225.1" r="1.05" fill="#ff7000"/><circle cx="463.1" cy="226.7" r="1.05" fill="#ff7000"/><circle cx="463.9" cy="229.5" r="1.05" fill="#ff7000"/><circle cx="464.7" cy="234.7" r="1.05" fill="#ff7000"/><circle cx="465.5" cy="223.0" r="1.05" fill="#ff7000"/><circle cx="466.3" cy="227.0" r="1.05" fill="#ff7000"/><circle cx="467.1" cy="223.2" r="1.05" fill="#ff7000"/><circle cx="467.9" cy="218.6" r="1.05" fill="#ff7000"/><circle cx="468.7" cy="216.8" r="1.05" fill="#ff7000"/><circle cx="469.5" cy="218.8" r="1.05" fill="#ff7000"/><circle cx="470.3" cy="218.6" r="1.05" fill="#ff7000"/><circle cx="471.1" cy="213.1" r="1.05" fill="#ff7000"/><circle cx="471.9" cy="213.3" r="1.05" fill="#ff7000"/><circle cx="472.7" cy="214.3" r="1.05" fill="#ff7000"/><circle cx="473.5" cy="205.7" r="1.05" fill="#ff7000"/><circle cx="474.3" cy="214.2" r="1.05" fill="#ff7000"/><circle cx="475.1" cy="212.8" r="1.05" fill="#ff7000"/><circle cx="475.9" cy="213.1" r="1.05" fill="#ff7000"/><circle cx="476.7" cy="218.2" r="1.05" fill="#ff7000"/><circle cx="477.5" cy="214.2" r="1.05" fill="#ff7000"/><circle cx="478.3" cy="212.7" r="1.05" fill="#ff7000"/><circle cx="479.1" cy="215.3" r="1.05" fill="#ff7000"/><circle cx="479.9" cy="211.1" r="1.05" fill="#ff7000"/><circle cx="480.7" cy="212.9" r="1.05" fill="#ff7000"/><circle cx="481.5" cy="218.0" r="1.05" fill="#ff7000"/><circle cx="482.3" cy="218.7" r="1.05" fill="#ff7000"/><circle cx="483.1" cy="223.6" r="1.05" fill="#ff7000"/><circle cx="483.9" cy="219.7" r="1.05" fill="#ff7000"/><circle cx="484.7" cy="216.9" r="1.05" fill="#ff7000"/><circle cx="485.5" cy="231.8" r="1.05" fill="#ff7000"/><circle cx="486.3" cy="230.6" r="1.05" fill="#ff7000"/><circle cx="487.1" cy="223.6" r="1.05" fill="#ff7000"/><circle cx="487.9" cy="232.9" r="1.05" fill="#ff7000"/><circle cx="488.7" cy="228.5" r="1.05" fill="#ff7000"/><circle cx="489.5" cy="222.1" r="1.05" fill="#ff7000"/><circle cx="490.3" cy="227.4" r="1.05" fill="#ff7000"/><circle cx="491.1" cy="227.2" r="1.05" fill="#ff7000"/><circle cx="491.9" cy="234.5" r="1.05" fill="#ff7000"/><circle cx="492.7" cy="225.0" r="1.05" fill="#ff7000"/><circle cx="493.5" cy="225.7" r="1.05" fill="#ff7000"/><circle cx="494.3" cy="224.3" r="1.05" fill="#ff7000"/><circle cx="495.1" cy="221.6" r="1.05" fill="#ff7000"/><circle cx="495.9" cy="220.2" r="1.05" fill="#ff7000"/><circle cx="496.7" cy="224.1" r="1.05" fill="#ff7000"/><circle cx="497.5" cy="227.1" r="1.05" fill="#ff7000"/><circle cx="498.3" cy="225.3" r="1.05" fill="#ff7000"/><circle cx="499.1" cy="226.1" r="1.05" fill="#ff7000"/><circle cx="499.9" cy="218.9" r="1.05" fill="#ff7000"/><circle cx="500.7" cy="224.0" r="1.05" fill="#ff7000"/><circle cx="501.5" cy="218.2" r="1.05" fill="#ff7000"/><circle cx="502.3" cy="224.8" r="1.05" fill="#ff7000"/><circle cx="503.1" cy="222.7" r="1.05" fill="#ff7000"/><circle cx="503.9" cy="236.5" r="1.05" fill="#ff7000"/><circle cx="504.7" cy="232.7" r="1.05" fill="#ff7000"/><circle cx="505.5" cy="225.8" r="1.05" fill="#ff7000"/><circle cx="506.3" cy="232.4" r="1.05" fill="#ff7000"/><circle cx="507.1" cy="233.9" r="1.05" fill="#ff7000"/><circle cx="507.9" cy="218.9" r="1.05" fill="#ff7000"/><circle cx="508.7" cy="227.1" r="1.05" fill="#ff7000"/><circle cx="509.5" cy="227.9" r="1.05" fill="#ff7000"/><circle cx="510.3" cy="231.8" r="1.05" fill="#ff7000"/><circle cx="511.1" cy="229.4" r="1.05" fill="#ff7000"/><circle cx="511.9" cy="229.3" r="1.05" fill="#ff7000"/><circle cx="512.7" cy="230.5" r="1.05" fill="#ff7000"/><circle cx="513.5" cy="238.2" r="1.05" fill="#ff7000"/><circle cx="514.3" cy="240.2" r="1.05" fill="#ff7000"/><circle cx="515.1" cy="231.4" r="1.05" fill="#ff7000"/><circle cx="515.9" cy="230.8" r="1.05" fill="#ff7000"/><circle cx="516.7" cy="243.6" r="1.05" fill="#ff7000"/><circle cx="517.5" cy="232.7" r="1.05" fill="#ff7000"/><circle cx="518.3" cy="235.2" r="1.05" fill="#ff7000"/><circle cx="519.1" cy="238.3" r="1.05" fill="#ff7000"/><circle cx="519.9" cy="240.5" r="1.05" fill="#ff7000"/><circle cx="520.7" cy="236.9" r="1.05" fill="#ff7000"/><circle cx="521.5" cy="240.4" r="1.05" fill="#ff7000"/><circle cx="522.3" cy="235.8" r="1.05" fill="#ff7000"/><circle cx="523.1" cy="240.7" r="1.05" fill="#ff7000"/><circle cx="523.9" cy="239.6" r="1.05" fill="#ff7000"/><circle cx="524.7" cy="245.2" r="1.05" fill="#ff7000"/><circle cx="525.5" cy="237.9" r="1.05" fill="#ff7000"/><text transform="translate(20.6,63.0) rotate(-90)" font-size="5.8" font-family="Liberation Serif" font-weight="bold">Ti (3p)</text><text transform="translate(23.6,84.3) rotate(-90)" font-size="5.8" font-family="Liberation Serif" font-weight="bold">Ti (3s)</text><text transform="translate(28.3,86.1) rotate(-90)" font-size="5.8" font-family="Liberation Serif" font-weight="bold">Mn (3s)</text><text transform="translate(33.7,72.0) rotate(-90)" font-size="5.6" font-family="Liberation Serif" font-weight="bold">Dy (4d)</text><text transform="translate(51.6,51.1) rotate(-90)" font-size="5.8" font-family="Liberation Serif" font-weight="bold">C (1s)</text><text transform="translate(63.2,51.9) rotate(-90)" font-size="5.8" font-family="Liberation Serif" font-weight="bold">Ti (2p<tspan font-size="4.52" dy="1.04">3/2</tspan><tspan dy="-1.04">)</tspan></text><text transform="translate(71.2,49.4) rotate(-90)" font-size="5.8" font-family="Liberation Serif" font-weight="bold">Ti (2p<tspan font-size="4.52" dy="1.04">1/2</tspan><tspan dy="-1.04">)</tspan></text><text transform="translate(76.9,17.4) rotate(-90)" font-size="5.8" font-family="Liberation Serif" font-weight="bold">O (1s)</text><text transform="translate(84.4,33.4) rotate(-90)" font-size="5.8" font-family="Liberation Serif" font-weight="bold">Ti (2s)</text><text transform="translate(91.7,35.9) rotate(-90)" font-size="6.1" font-family="Liberation Serif" font-weight="bold">Mn (2p)</text><text transform="translate(127.9,49.9) rotate(-90)" font-size="5.8" font-family="Liberation Serif" font-weight="bold">O (Auger lines)</text><text transform="translate(160.9,45.7) rotate(-90)" font-size="6.1" font-family="Liberation Serif" font-weight="bold">Dy (M<tspan font-size="4.76" dy="1.10">4,5</tspan><tspan dy="-1.10">)</tspan></text><text transform="translate(168.5,43.0) rotate(-90)" font-size="6.1" font-family="Liberation Serif" font-weight="bold">Dy (M<tspan font-size="4.76" dy="1.10">4,5</tspan><tspan dy="-1.10">)</tspan></text><line x1="18.2" y1="64" x2="18.2" y2="95.5" stroke="#777" stroke-width="0.5" stroke-dasharray="1,0.8"/><circle cx="18.2" cy="97.2" r="0.85" fill="#111"/><line x1="21.5" y1="86" x2="21.5" y2="95.5" stroke="#777" stroke-width="0.5" stroke-dasharray="1,0.8"/><circle cx="21.5" cy="97.2" r="0.85" fill="#111"/><line x1="24.5" y1="87.5" x2="24.5" y2="96" stroke="#777" stroke-width="0.5" stroke-dasharray="1,0.8"/><circle cx="24.5" cy="97.8" r="0.85" fill="#111"/><line x1="32.6" y1="73" x2="32.6" y2="82" stroke="#777" stroke-width="0.5" stroke-dasharray="1,0.8"/><circle cx="32.6" cy="83.7" r="0.85" fill="#111"/><line x1="37.6" y1="75" x2="37.6" y2="81.5" stroke="#777" stroke-width="0.5" stroke-dasharray="1,0.8"/><circle cx="37.6" cy="82.8" r="0.85" fill="#111"/><line x1="48.6" y1="52" x2="48.6" y2="61" stroke="#777" stroke-width="0.5" stroke-dasharray="1,0.8"/><circle cx="48.6" cy="62.7" r="0.85" fill="#111"/><line x1="66.1" y1="53.5" x2="66.1" y2="62.8" stroke="#777" stroke-width="0.5" stroke-dasharray="1,0.8"/><circle cx="66.1" cy="63.8" r="0.85" fill="#111"/><line x1="69.9" y1="56.5" x2="69.9" y2="66.3" stroke="#777" stroke-width="0.5" stroke-dasharray="1,0.8"/><circle cx="69.9" cy="67.4" r="0.85" fill="#111"/><line x1="75.4" y1="19" x2="75.4" y2="27" stroke="#777" stroke-width="0.5" stroke-dasharray="1,0.8"/><circle cx="75.4" cy="28" r="0.85" fill="#111"/><line x1="79.2" y1="34.3" x2="79.2" y2="45" stroke="#777" stroke-width="0.5" stroke-dasharray="1,0.8"/><circle cx="79.2" cy="46.2" r="0.85" fill="#111"/><line x1="88.6" y1="37.5" x2="88.6" y2="46.5" stroke="#777" stroke-width="0.5" stroke-dasharray="1,0.8"/><circle cx="88.6" cy="47.5" r="0.85" fill="#111"/><line x1="125.6" y1="51" x2="125.6" y2="55" stroke="#777" stroke-width="0.5" stroke-dasharray="1,0.8"/><circle cx="125.6" cy="55.9" r="0.85" fill="#111"/><line x1="162" y1="46.8" x2="162" y2="60.5" stroke="#888" stroke-width="0.6"/><path d="M160.9,58.8 L162,61.8 L163.1,58.8 Z" fill="#222"/><line x1="165.2" y1="44.2" x2="165.2" y2="55.0" stroke="#888" stroke-width="0.6"/><path d="M164.1,53.4 L165.2,56.4 L166.3,53.4 Z" fill="#222"/><text transform="translate(213.6,73.5) rotate(-90)" font-size="6.05" font-family="Liberation Serif" font-weight="bold">Dy (M<tspan font-size="5.14" dy="1.09">5/2</tspan><tspan dy="-1.09">)</tspan></text><text transform="translate(333.3,36.1) rotate(-90)" font-size="6.05" font-family="Liberation Serif" font-weight="bold">Dy (M<tspan font-size="5.14" dy="1.09">3/2</tspan><tspan dy="-1.09">)</tspan></text><text transform="translate(406.2,28.2) rotate(-90)" font-size="6.05" font-family="Liberation Serif" font-weight="bold">Ti (2p<tspan font-size="5.14" dy="1.09">3/2</tspan><tspan dy="-1.09">)</tspan></text><text transform="translate(467.8,70.7) rotate(-90)" font-size="6.05" font-family="Liberation Serif" font-weight="bold">Ti (2p<tspan font-size="5.14" dy="1.09">1/2</tspan><tspan dy="-1.09">)</tspan></text><text transform="translate(222.8,179.7) rotate(-90)" font-size="6.05" font-family="Liberation Serif" font-weight="bold">Mn (2p<tspan font-size="5.14" dy="1.09">3/2</tspan><tspan dy="-1.09">)</tspan></text><text transform="translate(299.1,177.7) rotate(-90)" font-size="6.05" font-family="Liberation Serif" font-weight="bold">Mn (2p<tspan font-size="5.14" dy="1.09">1/2</tspan><tspan dy="-1.09">)</tspan></text><text x="90.5" y="156.4" text-anchor="middle" font-size="5.8" font-family="Liberation Serif" font-weight="bold">O (1s)</text>
</svg></body></html>
